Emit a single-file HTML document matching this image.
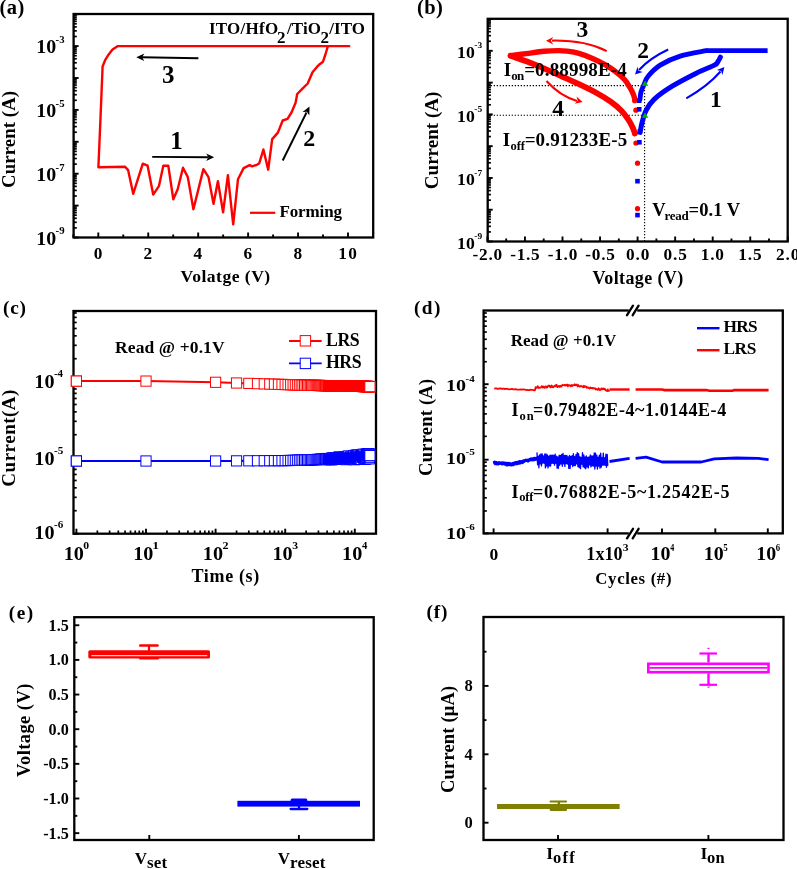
<!DOCTYPE html>
<html><head><meta charset="utf-8"><style>
html,body{margin:0;padding:0;background:#fff;}
svg{display:block;will-change:transform;}
svg text{font-family:"Liberation Serif",serif;}
</style></head><body>
<svg width="797" height="869" viewBox="0 0 797 869">
<rect x="0" y="0" width="797" height="869" fill="#fff"/>
<text x="-0.40" y="14.30" font-size="20.5" font-weight="bold" fill="#000" textLength="24.62" lengthAdjust="spacing">(a)</text>
<polyline points="349.20,46.10 117.90,46.10 112.50,49.60 107.90,55.60 105.30,59.80 102.60,66.50 100.50,118.00 98.40,167.30 125.10,166.70 128.10,170.10 133.20,193.80 142.80,163.70 147.60,165.70 153.20,194.60 158.90,186.20 163.30,165.70 168.30,165.70 173.30,199.20 177.70,189.20 183.00,167.70 187.80,177.10 193.40,209.30 203.40,169.10 208.50,177.10 213.50,203.90 217.90,181.20 223.10,212.30 227.90,175.10 233.20,224.30 238.00,179.20 243.60,168.10 249.60,165.10 252.10,166.40 256.90,164.80 259.30,163.20 263.40,149.50 268.20,169.70 272.20,139.10 277.90,132.60 282.70,120.50 287.50,118.90 291.50,112.50 295.60,102.80 297.20,94.00 302.00,89.10 307.70,83.50 312.50,72.20 316.50,67.40 319.70,64.20 323.00,61.70 325.40,54.50 327.80,46.40" fill="none" stroke="#ff0000" stroke-width="2.4" stroke-linejoin="round" stroke-linecap="round" />
<text x="208.94" y="34.20" font-size="17" font-weight="bold" fill="#000" textLength="69.19" lengthAdjust="spacing">ITO/HfO</text>
<text x="276.99" y="43.40" font-size="17" font-weight="bold" fill="#000" textLength="9.52" lengthAdjust="spacing">2</text>
<text x="286.97" y="34.20" font-size="17" font-weight="bold" fill="#000" textLength="33.94" lengthAdjust="spacing">/TiO</text>
<text x="320.44" y="43.40" font-size="17" font-weight="bold" fill="#000" textLength="8.92" lengthAdjust="spacing">2</text>
<text x="329.27" y="34.20" font-size="17" font-weight="bold" fill="#000" textLength="35.66" lengthAdjust="spacing">/ITO</text>
<line x1="198.40" y1="58.20" x2="142.00" y2="57.30" stroke="#000" stroke-width="1.9" />
<polygon points="136.30,57.20 144.36,53.52 142.10,57.29 144.24,61.12" fill="#000"/>
<text x="161.90" y="83.00" font-size="25" font-weight="bold" fill="#000" textLength="13.33" lengthAdjust="spacing">3</text>
<line x1="152.20" y1="156.90" x2="208.00" y2="157.20" stroke="#000" stroke-width="1.9" />
<polygon points="214.20,157.30 206.18,161.06 208.40,157.27 206.22,153.46" fill="#000"/>
<text x="170.33" y="148.50" font-size="25" font-weight="bold" fill="#000" textLength="12.93" lengthAdjust="spacing">1</text>
<line x1="282.70" y1="160.50" x2="306.50" y2="112.50" stroke="#000" stroke-width="1.9" />
<polygon points="309.50,106.60 309.35,115.46 306.93,111.80 302.54,112.08" fill="#000"/>
<text x="303.27" y="145.50" font-size="24" font-weight="bold" fill="#000" textLength="13.25" lengthAdjust="spacing">2</text>
<line x1="250.00" y1="212.80" x2="275.30" y2="212.80" stroke="#ff0000" stroke-width="2.2" />
<text x="279.51" y="216.80" font-size="17" font-weight="bold" fill="#000" textLength="62.45" lengthAdjust="spacing">Forming</text>
<rect x="73.60" y="14.00" width="299.60" height="223.50" fill="none" stroke="#000" stroke-width="2.3" />
<line x1="98.30" y1="237.50" x2="98.30" y2="232.50" stroke="#000" stroke-width="1.9" />
<line x1="148.24" y1="237.50" x2="148.24" y2="232.50" stroke="#000" stroke-width="1.9" />
<line x1="198.18" y1="237.50" x2="198.18" y2="232.50" stroke="#000" stroke-width="1.9" />
<line x1="248.12" y1="237.50" x2="248.12" y2="232.50" stroke="#000" stroke-width="1.9" />
<line x1="298.06" y1="237.50" x2="298.06" y2="232.50" stroke="#000" stroke-width="1.9" />
<line x1="348.00" y1="237.50" x2="348.00" y2="232.50" stroke="#000" stroke-width="1.9" />
<line x1="123.27" y1="237.50" x2="123.27" y2="234.50" stroke="#000" stroke-width="1.9" />
<line x1="173.21" y1="237.50" x2="173.21" y2="234.50" stroke="#000" stroke-width="1.9" />
<line x1="223.15" y1="237.50" x2="223.15" y2="234.50" stroke="#000" stroke-width="1.9" />
<line x1="273.09" y1="237.50" x2="273.09" y2="234.50" stroke="#000" stroke-width="1.9" />
<line x1="323.03" y1="237.50" x2="323.03" y2="234.50" stroke="#000" stroke-width="1.9" />
<line x1="73.33" y1="237.50" x2="73.33" y2="234.50" stroke="#000" stroke-width="1.9" />
<line x1="73.60" y1="237.50" x2="78.60" y2="237.50" stroke="#000" stroke-width="1.9" />
<line x1="73.60" y1="205.60" x2="78.60" y2="205.60" stroke="#000" stroke-width="1.9" />
<line x1="73.60" y1="173.70" x2="78.60" y2="173.70" stroke="#000" stroke-width="1.9" />
<line x1="73.60" y1="141.80" x2="78.60" y2="141.80" stroke="#000" stroke-width="1.9" />
<line x1="73.60" y1="109.90" x2="78.60" y2="109.90" stroke="#000" stroke-width="1.9" />
<line x1="73.60" y1="78.00" x2="78.60" y2="78.00" stroke="#000" stroke-width="1.9" />
<line x1="73.60" y1="46.10" x2="78.60" y2="46.10" stroke="#000" stroke-width="1.9" />
<line x1="73.60" y1="14.20" x2="78.60" y2="14.20" stroke="#000" stroke-width="1.9" />
<line x1="73.60" y1="227.90" x2="76.80" y2="227.90" stroke="#000" stroke-width="1.7" />
<line x1="73.60" y1="222.28" x2="76.80" y2="222.28" stroke="#000" stroke-width="1.7" />
<line x1="73.60" y1="218.29" x2="76.80" y2="218.29" stroke="#000" stroke-width="1.7" />
<line x1="73.60" y1="215.20" x2="76.80" y2="215.20" stroke="#000" stroke-width="1.7" />
<line x1="73.60" y1="212.68" x2="76.80" y2="212.68" stroke="#000" stroke-width="1.7" />
<line x1="73.60" y1="210.54" x2="76.80" y2="210.54" stroke="#000" stroke-width="1.7" />
<line x1="73.60" y1="208.69" x2="76.80" y2="208.69" stroke="#000" stroke-width="1.7" />
<line x1="73.60" y1="207.06" x2="76.80" y2="207.06" stroke="#000" stroke-width="1.7" />
<line x1="73.60" y1="196.00" x2="76.80" y2="196.00" stroke="#000" stroke-width="1.7" />
<line x1="73.60" y1="190.38" x2="76.80" y2="190.38" stroke="#000" stroke-width="1.7" />
<line x1="73.60" y1="186.39" x2="76.80" y2="186.39" stroke="#000" stroke-width="1.7" />
<line x1="73.60" y1="183.30" x2="76.80" y2="183.30" stroke="#000" stroke-width="1.7" />
<line x1="73.60" y1="180.78" x2="76.80" y2="180.78" stroke="#000" stroke-width="1.7" />
<line x1="73.60" y1="178.64" x2="76.80" y2="178.64" stroke="#000" stroke-width="1.7" />
<line x1="73.60" y1="176.79" x2="76.80" y2="176.79" stroke="#000" stroke-width="1.7" />
<line x1="73.60" y1="175.16" x2="76.80" y2="175.16" stroke="#000" stroke-width="1.7" />
<line x1="73.60" y1="164.10" x2="76.80" y2="164.10" stroke="#000" stroke-width="1.7" />
<line x1="73.60" y1="158.48" x2="76.80" y2="158.48" stroke="#000" stroke-width="1.7" />
<line x1="73.60" y1="154.49" x2="76.80" y2="154.49" stroke="#000" stroke-width="1.7" />
<line x1="73.60" y1="151.40" x2="76.80" y2="151.40" stroke="#000" stroke-width="1.7" />
<line x1="73.60" y1="148.88" x2="76.80" y2="148.88" stroke="#000" stroke-width="1.7" />
<line x1="73.60" y1="146.74" x2="76.80" y2="146.74" stroke="#000" stroke-width="1.7" />
<line x1="73.60" y1="144.89" x2="76.80" y2="144.89" stroke="#000" stroke-width="1.7" />
<line x1="73.60" y1="143.26" x2="76.80" y2="143.26" stroke="#000" stroke-width="1.7" />
<line x1="73.60" y1="132.20" x2="76.80" y2="132.20" stroke="#000" stroke-width="1.7" />
<line x1="73.60" y1="126.58" x2="76.80" y2="126.58" stroke="#000" stroke-width="1.7" />
<line x1="73.60" y1="122.59" x2="76.80" y2="122.59" stroke="#000" stroke-width="1.7" />
<line x1="73.60" y1="119.50" x2="76.80" y2="119.50" stroke="#000" stroke-width="1.7" />
<line x1="73.60" y1="116.98" x2="76.80" y2="116.98" stroke="#000" stroke-width="1.7" />
<line x1="73.60" y1="114.84" x2="76.80" y2="114.84" stroke="#000" stroke-width="1.7" />
<line x1="73.60" y1="112.99" x2="76.80" y2="112.99" stroke="#000" stroke-width="1.7" />
<line x1="73.60" y1="111.36" x2="76.80" y2="111.36" stroke="#000" stroke-width="1.7" />
<line x1="73.60" y1="100.30" x2="76.80" y2="100.30" stroke="#000" stroke-width="1.7" />
<line x1="73.60" y1="94.68" x2="76.80" y2="94.68" stroke="#000" stroke-width="1.7" />
<line x1="73.60" y1="90.69" x2="76.80" y2="90.69" stroke="#000" stroke-width="1.7" />
<line x1="73.60" y1="87.60" x2="76.80" y2="87.60" stroke="#000" stroke-width="1.7" />
<line x1="73.60" y1="85.08" x2="76.80" y2="85.08" stroke="#000" stroke-width="1.7" />
<line x1="73.60" y1="82.94" x2="76.80" y2="82.94" stroke="#000" stroke-width="1.7" />
<line x1="73.60" y1="81.09" x2="76.80" y2="81.09" stroke="#000" stroke-width="1.7" />
<line x1="73.60" y1="79.46" x2="76.80" y2="79.46" stroke="#000" stroke-width="1.7" />
<line x1="73.60" y1="68.40" x2="76.80" y2="68.40" stroke="#000" stroke-width="1.7" />
<line x1="73.60" y1="62.78" x2="76.80" y2="62.78" stroke="#000" stroke-width="1.7" />
<line x1="73.60" y1="58.79" x2="76.80" y2="58.79" stroke="#000" stroke-width="1.7" />
<line x1="73.60" y1="55.70" x2="76.80" y2="55.70" stroke="#000" stroke-width="1.7" />
<line x1="73.60" y1="53.18" x2="76.80" y2="53.18" stroke="#000" stroke-width="1.7" />
<line x1="73.60" y1="51.04" x2="76.80" y2="51.04" stroke="#000" stroke-width="1.7" />
<line x1="73.60" y1="49.19" x2="76.80" y2="49.19" stroke="#000" stroke-width="1.7" />
<line x1="73.60" y1="47.56" x2="76.80" y2="47.56" stroke="#000" stroke-width="1.7" />
<line x1="73.60" y1="36.50" x2="76.80" y2="36.50" stroke="#000" stroke-width="1.7" />
<line x1="73.60" y1="30.88" x2="76.80" y2="30.88" stroke="#000" stroke-width="1.7" />
<line x1="73.60" y1="26.89" x2="76.80" y2="26.89" stroke="#000" stroke-width="1.7" />
<line x1="73.60" y1="23.80" x2="76.80" y2="23.80" stroke="#000" stroke-width="1.7" />
<line x1="73.60" y1="21.28" x2="76.80" y2="21.28" stroke="#000" stroke-width="1.7" />
<line x1="73.60" y1="19.14" x2="76.80" y2="19.14" stroke="#000" stroke-width="1.7" />
<line x1="73.60" y1="17.29" x2="76.80" y2="17.29" stroke="#000" stroke-width="1.7" />
<line x1="73.60" y1="15.66" x2="76.80" y2="15.66" stroke="#000" stroke-width="1.7" />
<text x="93.63" y="258.60" font-size="17.3" font-weight="bold" fill="#000" textLength="9.34" lengthAdjust="spacing">0</text>
<text x="143.57" y="258.60" font-size="17.3" font-weight="bold" fill="#000" textLength="9.34" lengthAdjust="spacing">2</text>
<text x="193.56" y="258.60" font-size="17.3" font-weight="bold" fill="#000" textLength="9.34" lengthAdjust="spacing">4</text>
<text x="243.40" y="258.60" font-size="17.3" font-weight="bold" fill="#000" textLength="9.34" lengthAdjust="spacing">6</text>
<text x="293.39" y="258.60" font-size="17.3" font-weight="bold" fill="#000" textLength="9.34" lengthAdjust="spacing">8</text>
<text x="338.26" y="258.60" font-size="17.3" font-weight="bold" fill="#000" textLength="18.68" lengthAdjust="spacing">10</text>
<text x="36.20" y="53.30" font-size="18.5" font-weight="bold" fill="#000" textLength="19.94" lengthAdjust="spacingAndGlyphs">10</text>
<text x="55.60" y="42.94" font-size="9.3" font-weight="bold" fill="#000" textLength="8.99" lengthAdjust="spacingAndGlyphs">-3</text>
<text x="36.20" y="117.10" font-size="18.5" font-weight="bold" fill="#000" textLength="19.94" lengthAdjust="spacingAndGlyphs">10</text>
<text x="55.59" y="106.74" font-size="9.3" font-weight="bold" fill="#000" textLength="9.02" lengthAdjust="spacingAndGlyphs">-5</text>
<text x="36.20" y="180.90" font-size="18.5" font-weight="bold" fill="#000" textLength="19.94" lengthAdjust="spacingAndGlyphs">10</text>
<text x="55.60" y="170.54" font-size="9.3" font-weight="bold" fill="#000" textLength="8.87" lengthAdjust="spacingAndGlyphs">-7</text>
<text x="36.20" y="244.70" font-size="18.5" font-weight="bold" fill="#000" textLength="19.94" lengthAdjust="spacingAndGlyphs">10</text>
<text x="55.60" y="234.34" font-size="9.3" font-weight="bold" fill="#000" textLength="8.99" lengthAdjust="spacingAndGlyphs">-9</text>
<text x="0" y="0" font-size="18.8" font-weight="bold" fill="#000" textLength="96.99" lengthAdjust="spacing" transform="translate(14.50,187.90) rotate(-90)">Current (A)</text>
<text x="180.61" y="281.60" font-size="17.6" font-weight="bold" fill="#000" textLength="89.59" lengthAdjust="spacing">Volatge (V)</text>
<text x="416.90" y="14.10" font-size="20.5" font-weight="bold" fill="#000" textLength="25.89" lengthAdjust="spacing">(b)</text>
<line x1="487.70" y1="85.60" x2="644.60" y2="85.60" stroke="#000" stroke-width="1.1" stroke-dasharray="1.3,1.7"/>
<line x1="487.70" y1="115.20" x2="644.60" y2="115.20" stroke="#000" stroke-width="1.1" stroke-dasharray="1.3,1.7"/>
<line x1="644.60" y1="84.00" x2="644.60" y2="241.50" stroke="#000" stroke-width="1.1" stroke-dasharray="1.3,1.7"/>
<path d="M510.50,55.70 C513.13,55.35 520.73,54.33 526.30,53.60 C531.87,52.87 538.62,51.80 543.90,51.30 C549.18,50.80 554.20,50.63 558.00,50.60 C561.80,50.57 563.20,50.63 566.70,51.10 C570.20,51.57 574.60,52.13 579.00,53.40 C583.40,54.67 588.70,56.78 593.10,58.70 C597.50,60.62 601.60,62.70 605.40,64.90 C609.20,67.10 612.68,69.42 615.90,71.90 C619.12,74.38 622.35,77.17 624.70,79.80 C627.05,82.43 628.53,85.22 630.00,87.70 C631.47,90.18 632.68,92.65 633.50,94.70 C634.32,96.75 634.67,99.12 634.90,100.00" fill="none" stroke="#ff0000" stroke-width="5.4" stroke-linejoin="round" stroke-linecap="round" />
<path d="M510.50,55.70 C513.13,56.63 520.73,59.18 526.30,61.30 C531.87,63.42 538.03,65.90 543.90,68.40 C549.77,70.90 555.65,73.67 561.50,76.30 C567.35,78.93 573.15,81.42 579.00,84.20 C584.85,86.98 591.32,90.08 596.60,93.00 C601.88,95.92 606.60,98.78 610.70,101.70 C614.80,104.62 618.28,107.57 621.20,110.50 C624.12,113.43 626.30,116.52 628.20,119.30 C630.10,122.08 631.48,124.85 632.60,127.20 C633.72,129.55 634.52,132.37 634.90,133.40" fill="none" stroke="#ff0000" stroke-width="5.8" stroke-linejoin="round" stroke-linecap="round" />
<polyline points="767.60,50.70 706.30,50.70" fill="none" stroke="#0000ff" stroke-width="4.8" stroke-linejoin="round" stroke-linecap="butt" />
<path d="M706.30,50.70 C701.95,51.60 687.88,53.70 680.20,56.10 C672.52,58.50 665.55,61.75 660.20,65.10 C654.85,68.45 650.78,73.02 648.10,76.20 C645.42,79.38 645.28,81.57 644.10,84.20 C642.92,86.83 641.68,89.48 641.00,92.00 C640.32,94.52 640.17,98.08 640.00,99.30" fill="none" stroke="#0000ff" stroke-width="4.8" stroke-linejoin="round" stroke-linecap="round" />
<path d="M720.40,57.10 C720.00,57.83 719.00,60.17 718.00,61.50 C717.00,62.83 718.02,63.15 714.40,65.10 C710.78,67.05 703.33,69.68 696.30,73.20 C689.27,76.72 679.23,81.85 672.20,86.20 C665.17,90.55 658.45,95.28 654.10,99.30 C649.75,103.32 648.10,106.45 646.10,110.30 C644.10,114.15 643.10,118.72 642.10,122.40 C641.10,126.08 640.43,130.73 640.10,132.40" fill="none" stroke="#0000ff" stroke-width="5.0" stroke-linejoin="round" stroke-linecap="round" />
<circle cx="634.7" cy="100.7" r="2.6" fill="#ff0000"/>
<circle cx="635.9" cy="110.2" r="2.6" fill="#ff0000"/>
<circle cx="634.7" cy="133.6" r="2.6" fill="#ff0000"/>
<circle cx="635.9" cy="143" r="2.6" fill="#ff0000"/>
<circle cx="637.5" cy="163.2" r="2.6" fill="#ff0000"/>
<circle cx="637.5" cy="208.7" r="2.6" fill="#ff0000"/>
<rect x="636.90" y="98.40" width="4.60" height="4.60" fill="#0000ff" stroke="none" stroke-width="1" />
<rect x="636.90" y="107.00" width="4.60" height="4.60" fill="#0000ff" stroke="none" stroke-width="1" />
<rect x="637.50" y="129.50" width="4.60" height="4.60" fill="#0000ff" stroke="none" stroke-width="1" />
<rect x="637.10" y="140.00" width="4.60" height="4.60" fill="#0000ff" stroke="none" stroke-width="1" />
<rect x="635.20" y="178.90" width="4.60" height="4.60" fill="#0000ff" stroke="none" stroke-width="1" />
<rect x="635.20" y="212.80" width="4.60" height="4.60" fill="#0000ff" stroke="none" stroke-width="1" />
<polygon points="645.1,80.39999999999999 648.3000000000001,85.8 641.9,85.8" fill="#00b000"/>
<polygon points="645.1,112.39999999999999 648.3000000000001,117.8 641.9,117.8" fill="#00b000"/>
<path d="M606.7,51.1 Q585,40 552,40.6" fill="none" stroke="#ff0000" stroke-width="2.1" />
<polygon points="546.00,40.80 553.20,37.10 551.00,40.80 553.20,44.50" fill="#ff0000"/>
<path d="M546.5,81 Q560,96 577,101" fill="none" stroke="#ff0000" stroke-width="2.1" />
<polygon points="582.60,101.90 574.72,103.74 577.75,100.69 576.51,96.56" fill="#ff0000"/>
<path d="M668.2,49.5 Q650,58 639,70" fill="none" stroke="#0000ff" stroke-width="2.1" />
<polygon points="635.00,74.40 637.47,66.69 638.54,70.86 642.71,71.93" fill="#0000ff"/>
<path d="M686.3,98.3 Q708,86 720.5,71.5" fill="none" stroke="#0000ff" stroke-width="2.1" />
<polygon points="724.40,67.10 722.48,74.96 721.13,70.88 716.89,70.12" fill="#0000ff"/>
<text x="576.41" y="36.60" font-size="23.5" font-weight="bold" fill="#000" textLength="13.22" lengthAdjust="spacing">3</text>
<text x="552.18" y="115.50" font-size="23.5" font-weight="bold" fill="#000" textLength="12.87" lengthAdjust="spacing">4</text>
<text x="637.14" y="57.70" font-size="23.5" font-weight="bold" fill="#000" textLength="13.61" lengthAdjust="spacing">2</text>
<text x="709.88" y="107.10" font-size="23.5" font-weight="bold" fill="#000" textLength="12.65" lengthAdjust="spacing">1</text>
<text x="503.64" y="75.80" font-size="19" font-weight="bold" fill="#000" textLength="7.84" lengthAdjust="spacing">I</text>
<text x="511.34" y="79.80" font-size="13" font-weight="bold" fill="#000" textLength="12.82" lengthAdjust="spacing">on</text>
<text x="524.13" y="75.80" font-size="19" font-weight="bold" fill="#000" textLength="102.70" lengthAdjust="spacing">=0.88998E-4</text>
<text x="502.84" y="145.50" font-size="19" font-weight="bold" fill="#000" textLength="7.84" lengthAdjust="spacing">I</text>
<text x="510.54" y="149.50" font-size="12.5" font-weight="bold" fill="#000" textLength="14.35" lengthAdjust="spacing">off</text>
<text x="524.64" y="145.50" font-size="19" font-weight="bold" fill="#000" textLength="102.58" lengthAdjust="spacing">=0.91233E-5</text>
<text x="652.14" y="216.30" font-size="18.5" font-weight="bold" fill="#000" textLength="11.86" lengthAdjust="spacing">V</text>
<text x="664.45" y="219.80" font-size="13" font-weight="bold" fill="#000" textLength="24.28" lengthAdjust="spacing">read</text>
<text x="688.57" y="216.30" font-size="18.5" font-weight="bold" fill="#000" textLength="51.64" lengthAdjust="spacing">=0.1 V</text>
<rect x="487.70" y="18.80" width="300.00" height="222.70" fill="none" stroke="#000" stroke-width="2.3" />
<line x1="487.40" y1="241.50" x2="487.40" y2="236.50" stroke="#000" stroke-width="1.9" />
<line x1="524.95" y1="241.50" x2="524.95" y2="236.50" stroke="#000" stroke-width="1.9" />
<line x1="562.50" y1="241.50" x2="562.50" y2="236.50" stroke="#000" stroke-width="1.9" />
<line x1="600.05" y1="241.50" x2="600.05" y2="236.50" stroke="#000" stroke-width="1.9" />
<line x1="637.60" y1="241.50" x2="637.60" y2="236.50" stroke="#000" stroke-width="1.9" />
<line x1="675.15" y1="241.50" x2="675.15" y2="236.50" stroke="#000" stroke-width="1.9" />
<line x1="712.70" y1="241.50" x2="712.70" y2="236.50" stroke="#000" stroke-width="1.9" />
<line x1="750.25" y1="241.50" x2="750.25" y2="236.50" stroke="#000" stroke-width="1.9" />
<line x1="787.80" y1="241.50" x2="787.80" y2="236.50" stroke="#000" stroke-width="1.9" />
<line x1="506.18" y1="241.50" x2="506.18" y2="238.50" stroke="#000" stroke-width="1.9" />
<line x1="543.73" y1="241.50" x2="543.73" y2="238.50" stroke="#000" stroke-width="1.9" />
<line x1="581.27" y1="241.50" x2="581.27" y2="238.50" stroke="#000" stroke-width="1.9" />
<line x1="618.83" y1="241.50" x2="618.83" y2="238.50" stroke="#000" stroke-width="1.9" />
<line x1="656.38" y1="241.50" x2="656.38" y2="238.50" stroke="#000" stroke-width="1.9" />
<line x1="693.93" y1="241.50" x2="693.93" y2="238.50" stroke="#000" stroke-width="1.9" />
<line x1="731.48" y1="241.50" x2="731.48" y2="238.50" stroke="#000" stroke-width="1.9" />
<line x1="769.02" y1="241.50" x2="769.02" y2="238.50" stroke="#000" stroke-width="1.9" />
<line x1="487.70" y1="241.50" x2="492.70" y2="241.50" stroke="#000" stroke-width="1.9" />
<line x1="487.70" y1="209.72" x2="492.70" y2="209.72" stroke="#000" stroke-width="1.9" />
<line x1="487.70" y1="177.94" x2="492.70" y2="177.94" stroke="#000" stroke-width="1.9" />
<line x1="487.70" y1="146.16" x2="492.70" y2="146.16" stroke="#000" stroke-width="1.9" />
<line x1="487.70" y1="114.38" x2="492.70" y2="114.38" stroke="#000" stroke-width="1.9" />
<line x1="487.70" y1="82.60" x2="492.70" y2="82.60" stroke="#000" stroke-width="1.9" />
<line x1="487.70" y1="50.82" x2="492.70" y2="50.82" stroke="#000" stroke-width="1.9" />
<line x1="487.70" y1="19.04" x2="492.70" y2="19.04" stroke="#000" stroke-width="1.9" />
<line x1="487.70" y1="231.93" x2="490.90" y2="231.93" stroke="#000" stroke-width="1.7" />
<line x1="487.70" y1="226.34" x2="490.90" y2="226.34" stroke="#000" stroke-width="1.7" />
<line x1="487.70" y1="222.37" x2="490.90" y2="222.37" stroke="#000" stroke-width="1.7" />
<line x1="487.70" y1="219.29" x2="490.90" y2="219.29" stroke="#000" stroke-width="1.7" />
<line x1="487.70" y1="216.77" x2="490.90" y2="216.77" stroke="#000" stroke-width="1.7" />
<line x1="487.70" y1="214.64" x2="490.90" y2="214.64" stroke="#000" stroke-width="1.7" />
<line x1="487.70" y1="212.80" x2="490.90" y2="212.80" stroke="#000" stroke-width="1.7" />
<line x1="487.70" y1="211.17" x2="490.90" y2="211.17" stroke="#000" stroke-width="1.7" />
<line x1="487.70" y1="200.15" x2="490.90" y2="200.15" stroke="#000" stroke-width="1.7" />
<line x1="487.70" y1="194.56" x2="490.90" y2="194.56" stroke="#000" stroke-width="1.7" />
<line x1="487.70" y1="190.59" x2="490.90" y2="190.59" stroke="#000" stroke-width="1.7" />
<line x1="487.70" y1="187.51" x2="490.90" y2="187.51" stroke="#000" stroke-width="1.7" />
<line x1="487.70" y1="184.99" x2="490.90" y2="184.99" stroke="#000" stroke-width="1.7" />
<line x1="487.70" y1="182.86" x2="490.90" y2="182.86" stroke="#000" stroke-width="1.7" />
<line x1="487.70" y1="181.02" x2="490.90" y2="181.02" stroke="#000" stroke-width="1.7" />
<line x1="487.70" y1="179.39" x2="490.90" y2="179.39" stroke="#000" stroke-width="1.7" />
<line x1="487.70" y1="168.37" x2="490.90" y2="168.37" stroke="#000" stroke-width="1.7" />
<line x1="487.70" y1="162.78" x2="490.90" y2="162.78" stroke="#000" stroke-width="1.7" />
<line x1="487.70" y1="158.81" x2="490.90" y2="158.81" stroke="#000" stroke-width="1.7" />
<line x1="487.70" y1="155.73" x2="490.90" y2="155.73" stroke="#000" stroke-width="1.7" />
<line x1="487.70" y1="153.21" x2="490.90" y2="153.21" stroke="#000" stroke-width="1.7" />
<line x1="487.70" y1="151.08" x2="490.90" y2="151.08" stroke="#000" stroke-width="1.7" />
<line x1="487.70" y1="149.24" x2="490.90" y2="149.24" stroke="#000" stroke-width="1.7" />
<line x1="487.70" y1="147.61" x2="490.90" y2="147.61" stroke="#000" stroke-width="1.7" />
<line x1="487.70" y1="136.59" x2="490.90" y2="136.59" stroke="#000" stroke-width="1.7" />
<line x1="487.70" y1="131.00" x2="490.90" y2="131.00" stroke="#000" stroke-width="1.7" />
<line x1="487.70" y1="127.03" x2="490.90" y2="127.03" stroke="#000" stroke-width="1.7" />
<line x1="487.70" y1="123.95" x2="490.90" y2="123.95" stroke="#000" stroke-width="1.7" />
<line x1="487.70" y1="121.43" x2="490.90" y2="121.43" stroke="#000" stroke-width="1.7" />
<line x1="487.70" y1="119.30" x2="490.90" y2="119.30" stroke="#000" stroke-width="1.7" />
<line x1="487.70" y1="117.46" x2="490.90" y2="117.46" stroke="#000" stroke-width="1.7" />
<line x1="487.70" y1="115.83" x2="490.90" y2="115.83" stroke="#000" stroke-width="1.7" />
<line x1="487.70" y1="104.81" x2="490.90" y2="104.81" stroke="#000" stroke-width="1.7" />
<line x1="487.70" y1="99.22" x2="490.90" y2="99.22" stroke="#000" stroke-width="1.7" />
<line x1="487.70" y1="95.25" x2="490.90" y2="95.25" stroke="#000" stroke-width="1.7" />
<line x1="487.70" y1="92.17" x2="490.90" y2="92.17" stroke="#000" stroke-width="1.7" />
<line x1="487.70" y1="89.65" x2="490.90" y2="89.65" stroke="#000" stroke-width="1.7" />
<line x1="487.70" y1="87.52" x2="490.90" y2="87.52" stroke="#000" stroke-width="1.7" />
<line x1="487.70" y1="85.68" x2="490.90" y2="85.68" stroke="#000" stroke-width="1.7" />
<line x1="487.70" y1="84.05" x2="490.90" y2="84.05" stroke="#000" stroke-width="1.7" />
<line x1="487.70" y1="73.03" x2="490.90" y2="73.03" stroke="#000" stroke-width="1.7" />
<line x1="487.70" y1="67.44" x2="490.90" y2="67.44" stroke="#000" stroke-width="1.7" />
<line x1="487.70" y1="63.47" x2="490.90" y2="63.47" stroke="#000" stroke-width="1.7" />
<line x1="487.70" y1="60.39" x2="490.90" y2="60.39" stroke="#000" stroke-width="1.7" />
<line x1="487.70" y1="57.87" x2="490.90" y2="57.87" stroke="#000" stroke-width="1.7" />
<line x1="487.70" y1="55.74" x2="490.90" y2="55.74" stroke="#000" stroke-width="1.7" />
<line x1="487.70" y1="53.90" x2="490.90" y2="53.90" stroke="#000" stroke-width="1.7" />
<line x1="487.70" y1="52.27" x2="490.90" y2="52.27" stroke="#000" stroke-width="1.7" />
<line x1="487.70" y1="41.25" x2="490.90" y2="41.25" stroke="#000" stroke-width="1.7" />
<line x1="487.70" y1="35.66" x2="490.90" y2="35.66" stroke="#000" stroke-width="1.7" />
<line x1="487.70" y1="31.69" x2="490.90" y2="31.69" stroke="#000" stroke-width="1.7" />
<line x1="487.70" y1="28.61" x2="490.90" y2="28.61" stroke="#000" stroke-width="1.7" />
<line x1="487.70" y1="26.09" x2="490.90" y2="26.09" stroke="#000" stroke-width="1.7" />
<line x1="487.70" y1="23.96" x2="490.90" y2="23.96" stroke="#000" stroke-width="1.7" />
<line x1="487.70" y1="22.12" x2="490.90" y2="22.12" stroke="#000" stroke-width="1.7" />
<line x1="487.70" y1="20.49" x2="490.90" y2="20.49" stroke="#000" stroke-width="1.7" />
<text x="472.62" y="260.00" font-size="17.3" font-weight="bold" fill="#000" textLength="29.58" lengthAdjust="spacing">-2.0</text>
<text x="510.17" y="260.00" font-size="17.3" font-weight="bold" fill="#000" textLength="29.58" lengthAdjust="spacing">-1.5</text>
<text x="547.72" y="260.00" font-size="17.3" font-weight="bold" fill="#000" textLength="29.58" lengthAdjust="spacing">-1.0</text>
<text x="585.27" y="260.00" font-size="17.3" font-weight="bold" fill="#000" textLength="29.58" lengthAdjust="spacing">-0.5</text>
<text x="625.92" y="260.00" font-size="17.3" font-weight="bold" fill="#000" textLength="23.36" lengthAdjust="spacing">0.0</text>
<text x="663.47" y="260.00" font-size="17.3" font-weight="bold" fill="#000" textLength="23.36" lengthAdjust="spacing">0.5</text>
<text x="700.63" y="260.00" font-size="17.3" font-weight="bold" fill="#000" textLength="23.36" lengthAdjust="spacing">1.0</text>
<text x="738.18" y="260.00" font-size="17.3" font-weight="bold" fill="#000" textLength="23.36" lengthAdjust="spacing">1.5</text>
<text x="776.08" y="260.00" font-size="17.3" font-weight="bold" fill="#000" textLength="23.36" lengthAdjust="spacing">2.0</text>
<text x="457.09" y="58.01" font-size="17" font-weight="bold" fill="#000" textLength="17.68" lengthAdjust="spacingAndGlyphs">10</text>
<text x="474.34" y="48.49" font-size="9" font-weight="bold" fill="#000" textLength="7.89" lengthAdjust="spacingAndGlyphs">-3</text>
<text x="457.09" y="121.57" font-size="17" font-weight="bold" fill="#000" textLength="17.68" lengthAdjust="spacingAndGlyphs">10</text>
<text x="474.34" y="112.05" font-size="9" font-weight="bold" fill="#000" textLength="7.92" lengthAdjust="spacingAndGlyphs">-5</text>
<text x="457.09" y="185.13" font-size="17" font-weight="bold" fill="#000" textLength="17.68" lengthAdjust="spacingAndGlyphs">10</text>
<text x="474.35" y="175.61" font-size="9" font-weight="bold" fill="#000" textLength="7.79" lengthAdjust="spacingAndGlyphs">-7</text>
<text x="457.09" y="248.69" font-size="17" font-weight="bold" fill="#000" textLength="17.68" lengthAdjust="spacingAndGlyphs">10</text>
<text x="474.34" y="239.17" font-size="9" font-weight="bold" fill="#000" textLength="7.89" lengthAdjust="spacingAndGlyphs">-9</text>
<text x="0" y="0" font-size="19" font-weight="bold" fill="#000" textLength="97.60" lengthAdjust="spacing" transform="translate(438.40,189.21) rotate(-90)">Current (A)</text>
<text x="592.61" y="283.80" font-size="18" font-weight="bold" fill="#000" textLength="90.60" lengthAdjust="spacing">Voltage (V)</text>
<text x="2.92" y="314.00" font-size="19.3" font-weight="bold" fill="#000" textLength="23.06" lengthAdjust="spacing">(c)</text>
<rect x="73.50" y="311.00" width="302.50" height="222.70" fill="none" stroke="#000" stroke-width="2.3" />
<polyline points="76.40,381.10 146.00,381.10 215.60,382.30 236.55,383.00 248.81,383.39 257.50,383.66 264.25,383.88 269.76,384.05 274.42,384.20 278.46,384.33 282.02,384.44 285.20,384.54 288.08,384.63 290.71,384.71 293.13,384.79 295.37,384.86 297.46,384.93 299.41,384.99 301.24,385.05 302.97,385.10 304.60,385.15 306.15,385.20 307.63,385.23 309.03,385.26 310.38,385.29 311.66,385.32 312.90,385.35 314.08,385.37 315.22,385.40 316.32,385.42 317.38,385.45 318.41,385.47 319.40,385.49 320.36,385.51 321.29,385.53 322.19,385.55 323.07,385.57 323.92,385.59 324.75,385.61 325.55,385.63 326.34,385.64 327.10,385.66 327.85,385.68 328.58,385.69 329.29,385.71 329.98,385.72 330.66,385.74 331.33,385.75 331.98,385.77 332.61,385.78 333.24,385.79 333.85,385.81 334.45,385.82 335.03,385.83 335.61,385.85 336.17,385.86 336.73,385.87 337.27,385.88 337.81,385.89 338.33,385.91 338.85,385.92 339.36,385.93 339.86,385.94 340.35,385.95 340.83,385.96 341.31,385.97 341.78,385.98 342.24,385.99 342.69,386.00 343.14,386.01 343.58,386.02 344.02,386.03 344.45,386.04 344.87,386.05 345.29,386.06 345.70,386.07 346.10,386.08 346.50,386.08 346.90,386.09 347.29,386.10 347.67,386.11 348.06,386.12 348.43,386.13 348.80,386.13 349.17,386.14 349.53,386.15 349.89,386.16 350.24,386.17 350.59,386.17 350.94,386.18 351.28,386.19 351.62,386.20 351.95,386.20 352.28,386.21 352.61,386.22 352.93,386.22 353.25,386.23 353.57,386.24 353.88,386.25 354.19,386.25 354.50,386.26 354.80,386.27 355.10,386.27 355.40,386.28 355.69,386.28 355.99,386.29 356.27,386.30 356.56,386.30 356.85,386.31 357.13,386.32 357.40,386.32 357.68,386.33 357.95,386.33 358.23,386.34 358.49,386.35 358.76,386.35 359.02,386.36 359.29,386.36 359.55,386.37 359.80,386.37 360.06,386.38 360.31,386.39 360.56,386.39 360.81,386.40 361.06,386.40 361.30,386.41 361.54,386.41 361.79,386.42 362.02,386.42 362.26,386.43 362.50,386.43 362.73,386.44 362.96,386.44 363.19,386.45 363.42,386.45 363.65,386.46 363.87,386.46 364.09,386.47 364.32,386.47 364.54,386.48 364.75,386.48 364.97,386.49 365.19,386.49 365.40,386.50 365.61,386.50 365.82,386.51 366.03,386.51 366.24,386.52 366.45,386.52 366.65,386.52 366.85,386.53 367.06,386.53 367.26,386.54 367.46,386.54 367.65,386.55 367.85,386.55 368.05,386.55 368.24,386.56 368.43,386.56 368.63,386.57 368.82,386.57 369.01,386.58 369.20,386.58 369.38,386.58 369.57,386.59 369.75,386.59 369.94,386.60" fill="none" stroke="#ff0000" stroke-width="2.0" stroke-linejoin="round" stroke-linecap="round" />
<polyline points="76.40,461.00 146.00,461.00 215.60,461.00 236.55,460.88 248.81,460.81 257.50,460.76 264.25,460.72 269.76,460.69 274.42,460.66 278.46,460.64 282.02,460.62 285.20,460.60 288.08,460.51 290.71,460.43 293.13,460.35 295.37,460.28 297.46,460.21 299.41,460.15 301.24,460.09 302.97,460.04 304.60,459.99 306.15,459.94 307.63,459.89 309.03,459.85 310.38,459.80 311.66,459.76 312.90,459.72 314.08,459.67 315.22,459.57 316.32,459.67 317.38,459.38 318.41,459.57 319.40,459.43 320.36,459.13 321.29,459.43 322.19,458.91 323.07,459.24 323.92,458.76 324.75,458.70 325.55,459.07 326.34,459.59 327.10,458.50 327.85,458.59 328.58,459.20 329.29,459.73 329.98,459.04 330.66,458.67 331.33,459.76 331.98,457.86 332.61,459.50 333.24,458.25 333.85,457.87 334.45,457.75 335.03,458.15 335.61,459.33 336.17,457.74 336.73,458.71 337.27,458.83 337.81,458.09 338.33,458.53 338.85,457.16 339.36,457.09 339.86,457.46 340.35,458.81 340.83,458.04 341.31,457.66 341.78,458.46 342.24,458.02 342.69,457.50 343.14,459.07 343.58,458.74 344.02,457.21 344.45,458.29 344.87,458.10 345.29,459.29 345.70,458.77 346.10,457.18 346.50,459.64 346.90,456.50 347.29,457.56 347.67,458.80 348.06,456.51 348.43,457.76 348.80,456.00 349.17,458.41 349.53,458.77 349.89,458.00 350.24,459.19 350.59,456.92 350.94,458.45 351.28,458.02 351.62,457.94 351.95,457.40 352.28,459.01 352.61,459.44 352.93,457.42 353.25,458.22 353.57,455.57 353.88,458.36 354.19,458.11 354.50,459.64 354.80,458.87 355.10,456.42 355.40,456.86 355.69,458.14 355.99,455.14 356.27,457.15 356.56,455.75 356.85,455.49 357.13,455.18 357.40,458.54 357.68,455.46 357.95,456.01 358.23,456.68 358.49,459.01 358.76,455.11 359.02,456.91 359.29,457.39 359.55,459.05 359.80,458.73 360.06,458.95 360.31,455.96 360.56,456.64 360.81,456.33 361.06,459.03 361.30,459.41 361.54,455.19 361.79,455.30 362.02,455.57 362.26,455.56 362.50,456.88 362.73,457.42 362.96,455.65 363.19,454.23 363.42,456.46 363.65,456.17 363.87,457.24 364.09,459.35 364.32,457.90 364.54,456.92 364.75,457.48 364.97,457.79 365.19,454.29 365.40,459.04 365.61,458.36 365.82,458.89 366.03,458.45 366.24,456.11 366.45,456.14 366.65,454.42 366.85,457.47 367.06,454.13 367.26,454.14 367.46,454.95 367.65,454.66 367.85,455.69 368.05,453.97 368.24,453.64 368.43,454.52 368.63,454.20 368.82,455.76 369.01,453.70 369.20,458.82 369.38,457.24 369.57,454.39 369.75,455.01 369.94,455.57" fill="none" stroke="#0000ff" stroke-width="2.0" stroke-linejoin="round" stroke-linecap="round" />
<rect x="71.30" y="376.00" width="10.20" height="10.20" fill="#fff" stroke="#ff0000" stroke-width="1.0" />
<rect x="140.90" y="376.00" width="10.20" height="10.20" fill="#fff" stroke="#ff0000" stroke-width="1.0" />
<rect x="210.50" y="377.20" width="10.20" height="10.20" fill="#fff" stroke="#ff0000" stroke-width="1.0" />
<rect x="231.45" y="377.90" width="10.20" height="10.20" fill="#fff" stroke="#ff0000" stroke-width="1.0" />
<rect x="243.71" y="378.29" width="10.20" height="10.20" fill="#fff" stroke="#ff0000" stroke-width="1.0" />
<rect x="252.40" y="378.56" width="10.20" height="10.20" fill="#fff" stroke="#ff0000" stroke-width="1.0" />
<rect x="259.15" y="378.78" width="10.20" height="10.20" fill="#fff" stroke="#ff0000" stroke-width="1.0" />
<rect x="264.66" y="378.95" width="10.20" height="10.20" fill="#fff" stroke="#ff0000" stroke-width="1.0" />
<rect x="269.32" y="379.10" width="10.20" height="10.20" fill="#fff" stroke="#ff0000" stroke-width="1.0" />
<rect x="273.36" y="379.23" width="10.20" height="10.20" fill="#fff" stroke="#ff0000" stroke-width="1.0" />
<rect x="276.92" y="379.34" width="10.20" height="10.20" fill="#fff" stroke="#ff0000" stroke-width="1.0" />
<rect x="280.10" y="379.44" width="10.20" height="10.20" fill="#fff" stroke="#ff0000" stroke-width="1.0" />
<rect x="282.98" y="379.53" width="10.20" height="10.20" fill="#fff" stroke="#ff0000" stroke-width="1.0" />
<rect x="285.61" y="379.61" width="10.20" height="10.20" fill="#fff" stroke="#ff0000" stroke-width="1.0" />
<rect x="288.03" y="379.69" width="10.20" height="10.20" fill="#fff" stroke="#ff0000" stroke-width="1.0" />
<rect x="290.27" y="379.76" width="10.20" height="10.20" fill="#fff" stroke="#ff0000" stroke-width="1.0" />
<rect x="292.36" y="379.83" width="10.20" height="10.20" fill="#fff" stroke="#ff0000" stroke-width="1.0" />
<rect x="294.31" y="379.89" width="10.20" height="10.20" fill="#fff" stroke="#ff0000" stroke-width="1.0" />
<rect x="296.14" y="379.95" width="10.20" height="10.20" fill="#fff" stroke="#ff0000" stroke-width="1.0" />
<rect x="297.87" y="380.00" width="10.20" height="10.20" fill="#fff" stroke="#ff0000" stroke-width="1.0" />
<rect x="299.50" y="380.05" width="10.20" height="10.20" fill="#fff" stroke="#ff0000" stroke-width="1.0" />
<rect x="301.05" y="380.10" width="10.20" height="10.20" fill="#fff" stroke="#ff0000" stroke-width="1.0" />
<rect x="302.53" y="380.13" width="10.20" height="10.20" fill="#fff" stroke="#ff0000" stroke-width="1.0" />
<rect x="303.93" y="380.16" width="10.20" height="10.20" fill="#fff" stroke="#ff0000" stroke-width="1.0" />
<rect x="305.28" y="380.19" width="10.20" height="10.20" fill="#fff" stroke="#ff0000" stroke-width="1.0" />
<rect x="306.56" y="380.22" width="10.20" height="10.20" fill="#fff" stroke="#ff0000" stroke-width="1.0" />
<rect x="307.80" y="380.25" width="10.20" height="10.20" fill="#fff" stroke="#ff0000" stroke-width="1.0" />
<rect x="308.98" y="380.27" width="10.20" height="10.20" fill="#fff" stroke="#ff0000" stroke-width="1.0" />
<rect x="310.12" y="380.30" width="10.20" height="10.20" fill="#fff" stroke="#ff0000" stroke-width="1.0" />
<rect x="311.22" y="380.32" width="10.20" height="10.20" fill="#fff" stroke="#ff0000" stroke-width="1.0" />
<rect x="312.28" y="380.35" width="10.20" height="10.20" fill="#fff" stroke="#ff0000" stroke-width="1.0" />
<rect x="313.31" y="380.37" width="10.20" height="10.20" fill="#fff" stroke="#ff0000" stroke-width="1.0" />
<rect x="314.30" y="380.39" width="10.20" height="10.20" fill="#fff" stroke="#ff0000" stroke-width="1.0" />
<rect x="315.26" y="380.41" width="10.20" height="10.20" fill="#fff" stroke="#ff0000" stroke-width="1.0" />
<rect x="316.19" y="380.43" width="10.20" height="10.20" fill="#fff" stroke="#ff0000" stroke-width="1.0" />
<rect x="317.09" y="380.45" width="10.20" height="10.20" fill="#fff" stroke="#ff0000" stroke-width="1.0" />
<rect x="317.97" y="380.47" width="10.20" height="10.20" fill="#fff" stroke="#ff0000" stroke-width="1.0" />
<rect x="318.82" y="380.49" width="10.20" height="10.20" fill="#fff" stroke="#ff0000" stroke-width="1.0" />
<rect x="319.65" y="380.51" width="10.20" height="10.20" fill="#fff" stroke="#ff0000" stroke-width="1.0" />
<rect x="320.45" y="380.53" width="10.20" height="10.20" fill="#fff" stroke="#ff0000" stroke-width="1.0" />
<rect x="321.24" y="380.54" width="10.20" height="10.20" fill="#fff" stroke="#ff0000" stroke-width="1.0" />
<rect x="322.00" y="380.56" width="10.20" height="10.20" fill="#fff" stroke="#ff0000" stroke-width="1.0" />
<rect x="322.75" y="380.58" width="10.20" height="10.20" fill="#fff" stroke="#ff0000" stroke-width="1.0" />
<rect x="323.48" y="380.59" width="10.20" height="10.20" fill="#fff" stroke="#ff0000" stroke-width="1.0" />
<rect x="324.19" y="380.61" width="10.20" height="10.20" fill="#fff" stroke="#ff0000" stroke-width="1.0" />
<rect x="324.88" y="380.62" width="10.20" height="10.20" fill="#fff" stroke="#ff0000" stroke-width="1.0" />
<rect x="325.56" y="380.64" width="10.20" height="10.20" fill="#fff" stroke="#ff0000" stroke-width="1.0" />
<rect x="326.23" y="380.65" width="10.20" height="10.20" fill="#fff" stroke="#ff0000" stroke-width="1.0" />
<rect x="326.88" y="380.67" width="10.20" height="10.20" fill="#fff" stroke="#ff0000" stroke-width="1.0" />
<rect x="327.51" y="380.68" width="10.20" height="10.20" fill="#fff" stroke="#ff0000" stroke-width="1.0" />
<rect x="328.14" y="380.69" width="10.20" height="10.20" fill="#fff" stroke="#ff0000" stroke-width="1.0" />
<rect x="328.75" y="380.71" width="10.20" height="10.20" fill="#fff" stroke="#ff0000" stroke-width="1.0" />
<rect x="329.35" y="380.72" width="10.20" height="10.20" fill="#fff" stroke="#ff0000" stroke-width="1.0" />
<rect x="329.93" y="380.73" width="10.20" height="10.20" fill="#fff" stroke="#ff0000" stroke-width="1.0" />
<rect x="330.51" y="380.75" width="10.20" height="10.20" fill="#fff" stroke="#ff0000" stroke-width="1.0" />
<rect x="331.07" y="380.76" width="10.20" height="10.20" fill="#fff" stroke="#ff0000" stroke-width="1.0" />
<rect x="331.63" y="380.77" width="10.20" height="10.20" fill="#fff" stroke="#ff0000" stroke-width="1.0" />
<rect x="332.17" y="380.78" width="10.20" height="10.20" fill="#fff" stroke="#ff0000" stroke-width="1.0" />
<rect x="332.71" y="380.79" width="10.20" height="10.20" fill="#fff" stroke="#ff0000" stroke-width="1.0" />
<rect x="333.23" y="380.81" width="10.20" height="10.20" fill="#fff" stroke="#ff0000" stroke-width="1.0" />
<rect x="333.75" y="380.82" width="10.20" height="10.20" fill="#fff" stroke="#ff0000" stroke-width="1.0" />
<rect x="334.26" y="380.83" width="10.20" height="10.20" fill="#fff" stroke="#ff0000" stroke-width="1.0" />
<rect x="334.76" y="380.84" width="10.20" height="10.20" fill="#fff" stroke="#ff0000" stroke-width="1.0" />
<rect x="335.25" y="380.85" width="10.20" height="10.20" fill="#fff" stroke="#ff0000" stroke-width="1.0" />
<rect x="335.73" y="380.86" width="10.20" height="10.20" fill="#fff" stroke="#ff0000" stroke-width="1.0" />
<rect x="336.21" y="380.87" width="10.20" height="10.20" fill="#fff" stroke="#ff0000" stroke-width="1.0" />
<rect x="336.68" y="380.88" width="10.20" height="10.20" fill="#fff" stroke="#ff0000" stroke-width="1.0" />
<rect x="337.14" y="380.89" width="10.20" height="10.20" fill="#fff" stroke="#ff0000" stroke-width="1.0" />
<rect x="337.59" y="380.90" width="10.20" height="10.20" fill="#fff" stroke="#ff0000" stroke-width="1.0" />
<rect x="338.04" y="380.91" width="10.20" height="10.20" fill="#fff" stroke="#ff0000" stroke-width="1.0" />
<rect x="338.48" y="380.92" width="10.20" height="10.20" fill="#fff" stroke="#ff0000" stroke-width="1.0" />
<rect x="338.92" y="380.93" width="10.20" height="10.20" fill="#fff" stroke="#ff0000" stroke-width="1.0" />
<rect x="339.35" y="380.94" width="10.20" height="10.20" fill="#fff" stroke="#ff0000" stroke-width="1.0" />
<rect x="339.77" y="380.95" width="10.20" height="10.20" fill="#fff" stroke="#ff0000" stroke-width="1.0" />
<rect x="340.19" y="380.96" width="10.20" height="10.20" fill="#fff" stroke="#ff0000" stroke-width="1.0" />
<rect x="340.60" y="380.97" width="10.20" height="10.20" fill="#fff" stroke="#ff0000" stroke-width="1.0" />
<rect x="341.00" y="380.98" width="10.20" height="10.20" fill="#fff" stroke="#ff0000" stroke-width="1.0" />
<rect x="341.40" y="380.98" width="10.20" height="10.20" fill="#fff" stroke="#ff0000" stroke-width="1.0" />
<rect x="341.80" y="380.99" width="10.20" height="10.20" fill="#fff" stroke="#ff0000" stroke-width="1.0" />
<rect x="342.19" y="381.00" width="10.20" height="10.20" fill="#fff" stroke="#ff0000" stroke-width="1.0" />
<rect x="342.57" y="381.01" width="10.20" height="10.20" fill="#fff" stroke="#ff0000" stroke-width="1.0" />
<rect x="342.96" y="381.02" width="10.20" height="10.20" fill="#fff" stroke="#ff0000" stroke-width="1.0" />
<rect x="343.33" y="381.03" width="10.20" height="10.20" fill="#fff" stroke="#ff0000" stroke-width="1.0" />
<rect x="343.70" y="381.03" width="10.20" height="10.20" fill="#fff" stroke="#ff0000" stroke-width="1.0" />
<rect x="344.07" y="381.04" width="10.20" height="10.20" fill="#fff" stroke="#ff0000" stroke-width="1.0" />
<rect x="344.43" y="381.05" width="10.20" height="10.20" fill="#fff" stroke="#ff0000" stroke-width="1.0" />
<rect x="344.79" y="381.06" width="10.20" height="10.20" fill="#fff" stroke="#ff0000" stroke-width="1.0" />
<rect x="345.14" y="381.07" width="10.20" height="10.20" fill="#fff" stroke="#ff0000" stroke-width="1.0" />
<rect x="345.49" y="381.07" width="10.20" height="10.20" fill="#fff" stroke="#ff0000" stroke-width="1.0" />
<rect x="345.84" y="381.08" width="10.20" height="10.20" fill="#fff" stroke="#ff0000" stroke-width="1.0" />
<rect x="346.18" y="381.09" width="10.20" height="10.20" fill="#fff" stroke="#ff0000" stroke-width="1.0" />
<rect x="346.52" y="381.10" width="10.20" height="10.20" fill="#fff" stroke="#ff0000" stroke-width="1.0" />
<rect x="346.85" y="381.10" width="10.20" height="10.20" fill="#fff" stroke="#ff0000" stroke-width="1.0" />
<rect x="347.18" y="381.11" width="10.20" height="10.20" fill="#fff" stroke="#ff0000" stroke-width="1.0" />
<rect x="347.51" y="381.12" width="10.20" height="10.20" fill="#fff" stroke="#ff0000" stroke-width="1.0" />
<rect x="347.83" y="381.12" width="10.20" height="10.20" fill="#fff" stroke="#ff0000" stroke-width="1.0" />
<rect x="348.15" y="381.13" width="10.20" height="10.20" fill="#fff" stroke="#ff0000" stroke-width="1.0" />
<rect x="348.47" y="381.14" width="10.20" height="10.20" fill="#fff" stroke="#ff0000" stroke-width="1.0" />
<rect x="348.78" y="381.15" width="10.20" height="10.20" fill="#fff" stroke="#ff0000" stroke-width="1.0" />
<rect x="349.09" y="381.15" width="10.20" height="10.20" fill="#fff" stroke="#ff0000" stroke-width="1.0" />
<rect x="349.40" y="381.16" width="10.20" height="10.20" fill="#fff" stroke="#ff0000" stroke-width="1.0" />
<rect x="349.70" y="381.17" width="10.20" height="10.20" fill="#fff" stroke="#ff0000" stroke-width="1.0" />
<rect x="350.00" y="381.17" width="10.20" height="10.20" fill="#fff" stroke="#ff0000" stroke-width="1.0" />
<rect x="350.30" y="381.18" width="10.20" height="10.20" fill="#fff" stroke="#ff0000" stroke-width="1.0" />
<rect x="350.59" y="381.18" width="10.20" height="10.20" fill="#fff" stroke="#ff0000" stroke-width="1.0" />
<rect x="350.89" y="381.19" width="10.20" height="10.20" fill="#fff" stroke="#ff0000" stroke-width="1.0" />
<rect x="351.17" y="381.20" width="10.20" height="10.20" fill="#fff" stroke="#ff0000" stroke-width="1.0" />
<rect x="351.46" y="381.20" width="10.20" height="10.20" fill="#fff" stroke="#ff0000" stroke-width="1.0" />
<rect x="351.75" y="381.21" width="10.20" height="10.20" fill="#fff" stroke="#ff0000" stroke-width="1.0" />
<rect x="352.03" y="381.22" width="10.20" height="10.20" fill="#fff" stroke="#ff0000" stroke-width="1.0" />
<rect x="352.30" y="381.22" width="10.20" height="10.20" fill="#fff" stroke="#ff0000" stroke-width="1.0" />
<rect x="352.58" y="381.23" width="10.20" height="10.20" fill="#fff" stroke="#ff0000" stroke-width="1.0" />
<rect x="352.85" y="381.23" width="10.20" height="10.20" fill="#fff" stroke="#ff0000" stroke-width="1.0" />
<rect x="353.13" y="381.24" width="10.20" height="10.20" fill="#fff" stroke="#ff0000" stroke-width="1.0" />
<rect x="353.39" y="381.25" width="10.20" height="10.20" fill="#fff" stroke="#ff0000" stroke-width="1.0" />
<rect x="353.66" y="381.25" width="10.20" height="10.20" fill="#fff" stroke="#ff0000" stroke-width="1.0" />
<rect x="353.92" y="381.26" width="10.20" height="10.20" fill="#fff" stroke="#ff0000" stroke-width="1.0" />
<rect x="354.19" y="381.26" width="10.20" height="10.20" fill="#fff" stroke="#ff0000" stroke-width="1.0" />
<rect x="354.45" y="381.27" width="10.20" height="10.20" fill="#fff" stroke="#ff0000" stroke-width="1.0" />
<rect x="354.70" y="381.27" width="10.20" height="10.20" fill="#fff" stroke="#ff0000" stroke-width="1.0" />
<rect x="354.96" y="381.28" width="10.20" height="10.20" fill="#fff" stroke="#ff0000" stroke-width="1.0" />
<rect x="355.21" y="381.29" width="10.20" height="10.20" fill="#fff" stroke="#ff0000" stroke-width="1.0" />
<rect x="355.46" y="381.29" width="10.20" height="10.20" fill="#fff" stroke="#ff0000" stroke-width="1.0" />
<rect x="355.71" y="381.30" width="10.20" height="10.20" fill="#fff" stroke="#ff0000" stroke-width="1.0" />
<rect x="355.96" y="381.30" width="10.20" height="10.20" fill="#fff" stroke="#ff0000" stroke-width="1.0" />
<rect x="356.20" y="381.31" width="10.20" height="10.20" fill="#fff" stroke="#ff0000" stroke-width="1.0" />
<rect x="356.44" y="381.31" width="10.20" height="10.20" fill="#fff" stroke="#ff0000" stroke-width="1.0" />
<rect x="356.69" y="381.32" width="10.20" height="10.20" fill="#fff" stroke="#ff0000" stroke-width="1.0" />
<rect x="356.92" y="381.32" width="10.20" height="10.20" fill="#fff" stroke="#ff0000" stroke-width="1.0" />
<rect x="357.16" y="381.33" width="10.20" height="10.20" fill="#fff" stroke="#ff0000" stroke-width="1.0" />
<rect x="357.40" y="381.33" width="10.20" height="10.20" fill="#fff" stroke="#ff0000" stroke-width="1.0" />
<rect x="357.63" y="381.34" width="10.20" height="10.20" fill="#fff" stroke="#ff0000" stroke-width="1.0" />
<rect x="357.86" y="381.34" width="10.20" height="10.20" fill="#fff" stroke="#ff0000" stroke-width="1.0" />
<rect x="358.09" y="381.35" width="10.20" height="10.20" fill="#fff" stroke="#ff0000" stroke-width="1.0" />
<rect x="358.32" y="381.35" width="10.20" height="10.20" fill="#fff" stroke="#ff0000" stroke-width="1.0" />
<rect x="358.55" y="381.36" width="10.20" height="10.20" fill="#fff" stroke="#ff0000" stroke-width="1.0" />
<rect x="358.77" y="381.36" width="10.20" height="10.20" fill="#fff" stroke="#ff0000" stroke-width="1.0" />
<rect x="358.99" y="381.37" width="10.20" height="10.20" fill="#fff" stroke="#ff0000" stroke-width="1.0" />
<rect x="359.22" y="381.37" width="10.20" height="10.20" fill="#fff" stroke="#ff0000" stroke-width="1.0" />
<rect x="359.44" y="381.38" width="10.20" height="10.20" fill="#fff" stroke="#ff0000" stroke-width="1.0" />
<rect x="359.65" y="381.38" width="10.20" height="10.20" fill="#fff" stroke="#ff0000" stroke-width="1.0" />
<rect x="359.87" y="381.39" width="10.20" height="10.20" fill="#fff" stroke="#ff0000" stroke-width="1.0" />
<rect x="360.09" y="381.39" width="10.20" height="10.20" fill="#fff" stroke="#ff0000" stroke-width="1.0" />
<rect x="360.30" y="381.40" width="10.20" height="10.20" fill="#fff" stroke="#ff0000" stroke-width="1.0" />
<rect x="360.51" y="381.40" width="10.20" height="10.20" fill="#fff" stroke="#ff0000" stroke-width="1.0" />
<rect x="360.72" y="381.41" width="10.20" height="10.20" fill="#fff" stroke="#ff0000" stroke-width="1.0" />
<rect x="360.93" y="381.41" width="10.20" height="10.20" fill="#fff" stroke="#ff0000" stroke-width="1.0" />
<rect x="361.14" y="381.42" width="10.20" height="10.20" fill="#fff" stroke="#ff0000" stroke-width="1.0" />
<rect x="361.35" y="381.42" width="10.20" height="10.20" fill="#fff" stroke="#ff0000" stroke-width="1.0" />
<rect x="361.55" y="381.42" width="10.20" height="10.20" fill="#fff" stroke="#ff0000" stroke-width="1.0" />
<rect x="361.75" y="381.43" width="10.20" height="10.20" fill="#fff" stroke="#ff0000" stroke-width="1.0" />
<rect x="361.96" y="381.43" width="10.20" height="10.20" fill="#fff" stroke="#ff0000" stroke-width="1.0" />
<rect x="362.16" y="381.44" width="10.20" height="10.20" fill="#fff" stroke="#ff0000" stroke-width="1.0" />
<rect x="362.36" y="381.44" width="10.20" height="10.20" fill="#fff" stroke="#ff0000" stroke-width="1.0" />
<rect x="362.55" y="381.45" width="10.20" height="10.20" fill="#fff" stroke="#ff0000" stroke-width="1.0" />
<rect x="362.75" y="381.45" width="10.20" height="10.20" fill="#fff" stroke="#ff0000" stroke-width="1.0" />
<rect x="362.95" y="381.45" width="10.20" height="10.20" fill="#fff" stroke="#ff0000" stroke-width="1.0" />
<rect x="363.14" y="381.46" width="10.20" height="10.20" fill="#fff" stroke="#ff0000" stroke-width="1.0" />
<rect x="363.33" y="381.46" width="10.20" height="10.20" fill="#fff" stroke="#ff0000" stroke-width="1.0" />
<rect x="363.53" y="381.47" width="10.20" height="10.20" fill="#fff" stroke="#ff0000" stroke-width="1.0" />
<rect x="363.72" y="381.47" width="10.20" height="10.20" fill="#fff" stroke="#ff0000" stroke-width="1.0" />
<rect x="363.91" y="381.48" width="10.20" height="10.20" fill="#fff" stroke="#ff0000" stroke-width="1.0" />
<rect x="364.10" y="381.48" width="10.20" height="10.20" fill="#fff" stroke="#ff0000" stroke-width="1.0" />
<rect x="364.28" y="381.48" width="10.20" height="10.20" fill="#fff" stroke="#ff0000" stroke-width="1.0" />
<rect x="364.47" y="381.49" width="10.20" height="10.20" fill="#fff" stroke="#ff0000" stroke-width="1.0" />
<rect x="364.65" y="381.49" width="10.20" height="10.20" fill="#fff" stroke="#ff0000" stroke-width="1.0" />
<rect x="364.84" y="381.50" width="10.20" height="10.20" fill="#fff" stroke="#ff0000" stroke-width="1.0" />
<rect x="71.30" y="455.90" width="10.20" height="10.20" fill="#fff" stroke="#0000ff" stroke-width="1.0" />
<rect x="140.90" y="455.90" width="10.20" height="10.20" fill="#fff" stroke="#0000ff" stroke-width="1.0" />
<rect x="210.50" y="455.90" width="10.20" height="10.20" fill="#fff" stroke="#0000ff" stroke-width="1.0" />
<rect x="231.45" y="455.78" width="10.20" height="10.20" fill="#fff" stroke="#0000ff" stroke-width="1.0" />
<rect x="243.71" y="455.71" width="10.20" height="10.20" fill="#fff" stroke="#0000ff" stroke-width="1.0" />
<rect x="252.40" y="455.66" width="10.20" height="10.20" fill="#fff" stroke="#0000ff" stroke-width="1.0" />
<rect x="259.15" y="455.62" width="10.20" height="10.20" fill="#fff" stroke="#0000ff" stroke-width="1.0" />
<rect x="264.66" y="455.59" width="10.20" height="10.20" fill="#fff" stroke="#0000ff" stroke-width="1.0" />
<rect x="269.32" y="455.56" width="10.20" height="10.20" fill="#fff" stroke="#0000ff" stroke-width="1.0" />
<rect x="273.36" y="455.54" width="10.20" height="10.20" fill="#fff" stroke="#0000ff" stroke-width="1.0" />
<rect x="276.92" y="455.52" width="10.20" height="10.20" fill="#fff" stroke="#0000ff" stroke-width="1.0" />
<rect x="280.10" y="455.50" width="10.20" height="10.20" fill="#fff" stroke="#0000ff" stroke-width="1.0" />
<rect x="282.98" y="455.41" width="10.20" height="10.20" fill="#fff" stroke="#0000ff" stroke-width="1.0" />
<rect x="285.61" y="455.33" width="10.20" height="10.20" fill="#fff" stroke="#0000ff" stroke-width="1.0" />
<rect x="288.03" y="455.25" width="10.20" height="10.20" fill="#fff" stroke="#0000ff" stroke-width="1.0" />
<rect x="290.27" y="455.18" width="10.20" height="10.20" fill="#fff" stroke="#0000ff" stroke-width="1.0" />
<rect x="292.36" y="455.11" width="10.20" height="10.20" fill="#fff" stroke="#0000ff" stroke-width="1.0" />
<rect x="294.31" y="455.05" width="10.20" height="10.20" fill="#fff" stroke="#0000ff" stroke-width="1.0" />
<rect x="296.14" y="454.99" width="10.20" height="10.20" fill="#fff" stroke="#0000ff" stroke-width="1.0" />
<rect x="297.87" y="454.94" width="10.20" height="10.20" fill="#fff" stroke="#0000ff" stroke-width="1.0" />
<rect x="299.50" y="454.89" width="10.20" height="10.20" fill="#fff" stroke="#0000ff" stroke-width="1.0" />
<rect x="301.05" y="454.84" width="10.20" height="10.20" fill="#fff" stroke="#0000ff" stroke-width="1.0" />
<rect x="302.53" y="454.79" width="10.20" height="10.20" fill="#fff" stroke="#0000ff" stroke-width="1.0" />
<rect x="303.93" y="454.75" width="10.20" height="10.20" fill="#fff" stroke="#0000ff" stroke-width="1.0" />
<rect x="305.28" y="454.70" width="10.20" height="10.20" fill="#fff" stroke="#0000ff" stroke-width="1.0" />
<rect x="306.56" y="454.66" width="10.20" height="10.20" fill="#fff" stroke="#0000ff" stroke-width="1.0" />
<rect x="307.80" y="454.62" width="10.20" height="10.20" fill="#fff" stroke="#0000ff" stroke-width="1.0" />
<rect x="308.98" y="454.57" width="10.20" height="10.20" fill="#fff" stroke="#0000ff" stroke-width="1.0" />
<rect x="310.12" y="454.47" width="10.20" height="10.20" fill="#fff" stroke="#0000ff" stroke-width="1.0" />
<rect x="311.22" y="454.57" width="10.20" height="10.20" fill="#fff" stroke="#0000ff" stroke-width="1.0" />
<rect x="312.28" y="454.28" width="10.20" height="10.20" fill="#fff" stroke="#0000ff" stroke-width="1.0" />
<rect x="313.31" y="454.47" width="10.20" height="10.20" fill="#fff" stroke="#0000ff" stroke-width="1.0" />
<rect x="314.30" y="454.33" width="10.20" height="10.20" fill="#fff" stroke="#0000ff" stroke-width="1.0" />
<rect x="315.26" y="454.03" width="10.20" height="10.20" fill="#fff" stroke="#0000ff" stroke-width="1.0" />
<rect x="316.19" y="454.33" width="10.20" height="10.20" fill="#fff" stroke="#0000ff" stroke-width="1.0" />
<rect x="317.09" y="453.81" width="10.20" height="10.20" fill="#fff" stroke="#0000ff" stroke-width="1.0" />
<rect x="317.97" y="454.14" width="10.20" height="10.20" fill="#fff" stroke="#0000ff" stroke-width="1.0" />
<rect x="318.82" y="453.66" width="10.20" height="10.20" fill="#fff" stroke="#0000ff" stroke-width="1.0" />
<rect x="319.65" y="453.60" width="10.20" height="10.20" fill="#fff" stroke="#0000ff" stroke-width="1.0" />
<rect x="320.45" y="453.97" width="10.20" height="10.20" fill="#fff" stroke="#0000ff" stroke-width="1.0" />
<rect x="321.24" y="454.49" width="10.20" height="10.20" fill="#fff" stroke="#0000ff" stroke-width="1.0" />
<rect x="322.00" y="453.40" width="10.20" height="10.20" fill="#fff" stroke="#0000ff" stroke-width="1.0" />
<rect x="322.75" y="453.49" width="10.20" height="10.20" fill="#fff" stroke="#0000ff" stroke-width="1.0" />
<rect x="323.48" y="454.10" width="10.20" height="10.20" fill="#fff" stroke="#0000ff" stroke-width="1.0" />
<rect x="324.19" y="454.63" width="10.20" height="10.20" fill="#fff" stroke="#0000ff" stroke-width="1.0" />
<rect x="324.88" y="453.94" width="10.20" height="10.20" fill="#fff" stroke="#0000ff" stroke-width="1.0" />
<rect x="325.56" y="453.57" width="10.20" height="10.20" fill="#fff" stroke="#0000ff" stroke-width="1.0" />
<rect x="326.23" y="454.66" width="10.20" height="10.20" fill="#fff" stroke="#0000ff" stroke-width="1.0" />
<rect x="326.88" y="452.76" width="10.20" height="10.20" fill="#fff" stroke="#0000ff" stroke-width="1.0" />
<rect x="327.51" y="454.40" width="10.20" height="10.20" fill="#fff" stroke="#0000ff" stroke-width="1.0" />
<rect x="328.14" y="453.15" width="10.20" height="10.20" fill="#fff" stroke="#0000ff" stroke-width="1.0" />
<rect x="328.75" y="452.77" width="10.20" height="10.20" fill="#fff" stroke="#0000ff" stroke-width="1.0" />
<rect x="329.35" y="452.65" width="10.20" height="10.20" fill="#fff" stroke="#0000ff" stroke-width="1.0" />
<rect x="329.93" y="453.05" width="10.20" height="10.20" fill="#fff" stroke="#0000ff" stroke-width="1.0" />
<rect x="330.51" y="454.23" width="10.20" height="10.20" fill="#fff" stroke="#0000ff" stroke-width="1.0" />
<rect x="331.07" y="452.64" width="10.20" height="10.20" fill="#fff" stroke="#0000ff" stroke-width="1.0" />
<rect x="331.63" y="453.61" width="10.20" height="10.20" fill="#fff" stroke="#0000ff" stroke-width="1.0" />
<rect x="332.17" y="453.73" width="10.20" height="10.20" fill="#fff" stroke="#0000ff" stroke-width="1.0" />
<rect x="332.71" y="452.99" width="10.20" height="10.20" fill="#fff" stroke="#0000ff" stroke-width="1.0" />
<rect x="333.23" y="453.43" width="10.20" height="10.20" fill="#fff" stroke="#0000ff" stroke-width="1.0" />
<rect x="333.75" y="452.06" width="10.20" height="10.20" fill="#fff" stroke="#0000ff" stroke-width="1.0" />
<rect x="334.26" y="451.99" width="10.20" height="10.20" fill="#fff" stroke="#0000ff" stroke-width="1.0" />
<rect x="334.76" y="452.36" width="10.20" height="10.20" fill="#fff" stroke="#0000ff" stroke-width="1.0" />
<rect x="335.25" y="453.71" width="10.20" height="10.20" fill="#fff" stroke="#0000ff" stroke-width="1.0" />
<rect x="335.73" y="452.94" width="10.20" height="10.20" fill="#fff" stroke="#0000ff" stroke-width="1.0" />
<rect x="336.21" y="452.56" width="10.20" height="10.20" fill="#fff" stroke="#0000ff" stroke-width="1.0" />
<rect x="336.68" y="453.36" width="10.20" height="10.20" fill="#fff" stroke="#0000ff" stroke-width="1.0" />
<rect x="337.14" y="452.92" width="10.20" height="10.20" fill="#fff" stroke="#0000ff" stroke-width="1.0" />
<rect x="337.59" y="452.40" width="10.20" height="10.20" fill="#fff" stroke="#0000ff" stroke-width="1.0" />
<rect x="338.04" y="453.97" width="10.20" height="10.20" fill="#fff" stroke="#0000ff" stroke-width="1.0" />
<rect x="338.48" y="453.64" width="10.20" height="10.20" fill="#fff" stroke="#0000ff" stroke-width="1.0" />
<rect x="338.92" y="452.11" width="10.20" height="10.20" fill="#fff" stroke="#0000ff" stroke-width="1.0" />
<rect x="339.35" y="453.19" width="10.20" height="10.20" fill="#fff" stroke="#0000ff" stroke-width="1.0" />
<rect x="339.77" y="453.00" width="10.20" height="10.20" fill="#fff" stroke="#0000ff" stroke-width="1.0" />
<rect x="340.19" y="454.19" width="10.20" height="10.20" fill="#fff" stroke="#0000ff" stroke-width="1.0" />
<rect x="340.60" y="453.67" width="10.20" height="10.20" fill="#fff" stroke="#0000ff" stroke-width="1.0" />
<rect x="341.00" y="452.08" width="10.20" height="10.20" fill="#fff" stroke="#0000ff" stroke-width="1.0" />
<rect x="341.40" y="454.54" width="10.20" height="10.20" fill="#fff" stroke="#0000ff" stroke-width="1.0" />
<rect x="341.80" y="451.40" width="10.20" height="10.20" fill="#fff" stroke="#0000ff" stroke-width="1.0" />
<rect x="342.19" y="452.46" width="10.20" height="10.20" fill="#fff" stroke="#0000ff" stroke-width="1.0" />
<rect x="342.57" y="453.70" width="10.20" height="10.20" fill="#fff" stroke="#0000ff" stroke-width="1.0" />
<rect x="342.96" y="451.41" width="10.20" height="10.20" fill="#fff" stroke="#0000ff" stroke-width="1.0" />
<rect x="343.33" y="452.66" width="10.20" height="10.20" fill="#fff" stroke="#0000ff" stroke-width="1.0" />
<rect x="343.70" y="450.90" width="10.20" height="10.20" fill="#fff" stroke="#0000ff" stroke-width="1.0" />
<rect x="344.07" y="453.31" width="10.20" height="10.20" fill="#fff" stroke="#0000ff" stroke-width="1.0" />
<rect x="344.43" y="453.67" width="10.20" height="10.20" fill="#fff" stroke="#0000ff" stroke-width="1.0" />
<rect x="344.79" y="452.90" width="10.20" height="10.20" fill="#fff" stroke="#0000ff" stroke-width="1.0" />
<rect x="345.14" y="454.09" width="10.20" height="10.20" fill="#fff" stroke="#0000ff" stroke-width="1.0" />
<rect x="345.49" y="451.82" width="10.20" height="10.20" fill="#fff" stroke="#0000ff" stroke-width="1.0" />
<rect x="345.84" y="453.35" width="10.20" height="10.20" fill="#fff" stroke="#0000ff" stroke-width="1.0" />
<rect x="346.18" y="452.92" width="10.20" height="10.20" fill="#fff" stroke="#0000ff" stroke-width="1.0" />
<rect x="346.52" y="452.84" width="10.20" height="10.20" fill="#fff" stroke="#0000ff" stroke-width="1.0" />
<rect x="346.85" y="452.30" width="10.20" height="10.20" fill="#fff" stroke="#0000ff" stroke-width="1.0" />
<rect x="347.18" y="453.91" width="10.20" height="10.20" fill="#fff" stroke="#0000ff" stroke-width="1.0" />
<rect x="347.51" y="454.34" width="10.20" height="10.20" fill="#fff" stroke="#0000ff" stroke-width="1.0" />
<rect x="347.83" y="452.32" width="10.20" height="10.20" fill="#fff" stroke="#0000ff" stroke-width="1.0" />
<rect x="348.15" y="453.12" width="10.20" height="10.20" fill="#fff" stroke="#0000ff" stroke-width="1.0" />
<rect x="348.47" y="450.47" width="10.20" height="10.20" fill="#fff" stroke="#0000ff" stroke-width="1.0" />
<rect x="348.78" y="453.26" width="10.20" height="10.20" fill="#fff" stroke="#0000ff" stroke-width="1.0" />
<rect x="349.09" y="453.01" width="10.20" height="10.20" fill="#fff" stroke="#0000ff" stroke-width="1.0" />
<rect x="349.40" y="454.54" width="10.20" height="10.20" fill="#fff" stroke="#0000ff" stroke-width="1.0" />
<rect x="349.70" y="453.77" width="10.20" height="10.20" fill="#fff" stroke="#0000ff" stroke-width="1.0" />
<rect x="350.00" y="451.32" width="10.20" height="10.20" fill="#fff" stroke="#0000ff" stroke-width="1.0" />
<rect x="350.30" y="451.76" width="10.20" height="10.20" fill="#fff" stroke="#0000ff" stroke-width="1.0" />
<rect x="350.59" y="453.04" width="10.20" height="10.20" fill="#fff" stroke="#0000ff" stroke-width="1.0" />
<rect x="350.89" y="450.04" width="10.20" height="10.20" fill="#fff" stroke="#0000ff" stroke-width="1.0" />
<rect x="351.17" y="452.05" width="10.20" height="10.20" fill="#fff" stroke="#0000ff" stroke-width="1.0" />
<rect x="351.46" y="450.65" width="10.20" height="10.20" fill="#fff" stroke="#0000ff" stroke-width="1.0" />
<rect x="351.75" y="450.39" width="10.20" height="10.20" fill="#fff" stroke="#0000ff" stroke-width="1.0" />
<rect x="352.03" y="450.08" width="10.20" height="10.20" fill="#fff" stroke="#0000ff" stroke-width="1.0" />
<rect x="352.30" y="453.44" width="10.20" height="10.20" fill="#fff" stroke="#0000ff" stroke-width="1.0" />
<rect x="352.58" y="450.36" width="10.20" height="10.20" fill="#fff" stroke="#0000ff" stroke-width="1.0" />
<rect x="352.85" y="450.91" width="10.20" height="10.20" fill="#fff" stroke="#0000ff" stroke-width="1.0" />
<rect x="353.13" y="451.58" width="10.20" height="10.20" fill="#fff" stroke="#0000ff" stroke-width="1.0" />
<rect x="353.39" y="453.91" width="10.20" height="10.20" fill="#fff" stroke="#0000ff" stroke-width="1.0" />
<rect x="353.66" y="450.01" width="10.20" height="10.20" fill="#fff" stroke="#0000ff" stroke-width="1.0" />
<rect x="353.92" y="451.81" width="10.20" height="10.20" fill="#fff" stroke="#0000ff" stroke-width="1.0" />
<rect x="354.19" y="452.29" width="10.20" height="10.20" fill="#fff" stroke="#0000ff" stroke-width="1.0" />
<rect x="354.45" y="453.95" width="10.20" height="10.20" fill="#fff" stroke="#0000ff" stroke-width="1.0" />
<rect x="354.70" y="453.63" width="10.20" height="10.20" fill="#fff" stroke="#0000ff" stroke-width="1.0" />
<rect x="354.96" y="453.85" width="10.20" height="10.20" fill="#fff" stroke="#0000ff" stroke-width="1.0" />
<rect x="355.21" y="450.86" width="10.20" height="10.20" fill="#fff" stroke="#0000ff" stroke-width="1.0" />
<rect x="355.46" y="451.54" width="10.20" height="10.20" fill="#fff" stroke="#0000ff" stroke-width="1.0" />
<rect x="355.71" y="451.23" width="10.20" height="10.20" fill="#fff" stroke="#0000ff" stroke-width="1.0" />
<rect x="355.96" y="453.93" width="10.20" height="10.20" fill="#fff" stroke="#0000ff" stroke-width="1.0" />
<rect x="356.20" y="454.31" width="10.20" height="10.20" fill="#fff" stroke="#0000ff" stroke-width="1.0" />
<rect x="356.44" y="450.09" width="10.20" height="10.20" fill="#fff" stroke="#0000ff" stroke-width="1.0" />
<rect x="356.69" y="450.20" width="10.20" height="10.20" fill="#fff" stroke="#0000ff" stroke-width="1.0" />
<rect x="356.92" y="450.47" width="10.20" height="10.20" fill="#fff" stroke="#0000ff" stroke-width="1.0" />
<rect x="357.16" y="450.46" width="10.20" height="10.20" fill="#fff" stroke="#0000ff" stroke-width="1.0" />
<rect x="357.40" y="451.78" width="10.20" height="10.20" fill="#fff" stroke="#0000ff" stroke-width="1.0" />
<rect x="357.63" y="452.32" width="10.20" height="10.20" fill="#fff" stroke="#0000ff" stroke-width="1.0" />
<rect x="357.86" y="450.55" width="10.20" height="10.20" fill="#fff" stroke="#0000ff" stroke-width="1.0" />
<rect x="358.09" y="449.13" width="10.20" height="10.20" fill="#fff" stroke="#0000ff" stroke-width="1.0" />
<rect x="358.32" y="451.36" width="10.20" height="10.20" fill="#fff" stroke="#0000ff" stroke-width="1.0" />
<rect x="358.55" y="451.07" width="10.20" height="10.20" fill="#fff" stroke="#0000ff" stroke-width="1.0" />
<rect x="358.77" y="452.14" width="10.20" height="10.20" fill="#fff" stroke="#0000ff" stroke-width="1.0" />
<rect x="358.99" y="454.25" width="10.20" height="10.20" fill="#fff" stroke="#0000ff" stroke-width="1.0" />
<rect x="359.22" y="452.80" width="10.20" height="10.20" fill="#fff" stroke="#0000ff" stroke-width="1.0" />
<rect x="359.44" y="451.82" width="10.20" height="10.20" fill="#fff" stroke="#0000ff" stroke-width="1.0" />
<rect x="359.65" y="452.38" width="10.20" height="10.20" fill="#fff" stroke="#0000ff" stroke-width="1.0" />
<rect x="359.87" y="452.69" width="10.20" height="10.20" fill="#fff" stroke="#0000ff" stroke-width="1.0" />
<rect x="360.09" y="449.19" width="10.20" height="10.20" fill="#fff" stroke="#0000ff" stroke-width="1.0" />
<rect x="360.30" y="453.94" width="10.20" height="10.20" fill="#fff" stroke="#0000ff" stroke-width="1.0" />
<rect x="360.51" y="453.26" width="10.20" height="10.20" fill="#fff" stroke="#0000ff" stroke-width="1.0" />
<rect x="360.72" y="453.79" width="10.20" height="10.20" fill="#fff" stroke="#0000ff" stroke-width="1.0" />
<rect x="360.93" y="453.35" width="10.20" height="10.20" fill="#fff" stroke="#0000ff" stroke-width="1.0" />
<rect x="361.14" y="451.01" width="10.20" height="10.20" fill="#fff" stroke="#0000ff" stroke-width="1.0" />
<rect x="361.35" y="451.04" width="10.20" height="10.20" fill="#fff" stroke="#0000ff" stroke-width="1.0" />
<rect x="361.55" y="449.32" width="10.20" height="10.20" fill="#fff" stroke="#0000ff" stroke-width="1.0" />
<rect x="361.75" y="452.37" width="10.20" height="10.20" fill="#fff" stroke="#0000ff" stroke-width="1.0" />
<rect x="361.96" y="449.03" width="10.20" height="10.20" fill="#fff" stroke="#0000ff" stroke-width="1.0" />
<rect x="362.16" y="449.04" width="10.20" height="10.20" fill="#fff" stroke="#0000ff" stroke-width="1.0" />
<rect x="362.36" y="449.85" width="10.20" height="10.20" fill="#fff" stroke="#0000ff" stroke-width="1.0" />
<rect x="362.55" y="449.56" width="10.20" height="10.20" fill="#fff" stroke="#0000ff" stroke-width="1.0" />
<rect x="362.75" y="450.59" width="10.20" height="10.20" fill="#fff" stroke="#0000ff" stroke-width="1.0" />
<rect x="362.95" y="448.87" width="10.20" height="10.20" fill="#fff" stroke="#0000ff" stroke-width="1.0" />
<rect x="363.14" y="448.54" width="10.20" height="10.20" fill="#fff" stroke="#0000ff" stroke-width="1.0" />
<rect x="363.33" y="449.42" width="10.20" height="10.20" fill="#fff" stroke="#0000ff" stroke-width="1.0" />
<rect x="363.53" y="449.10" width="10.20" height="10.20" fill="#fff" stroke="#0000ff" stroke-width="1.0" />
<rect x="363.72" y="450.66" width="10.20" height="10.20" fill="#fff" stroke="#0000ff" stroke-width="1.0" />
<rect x="363.91" y="448.60" width="10.20" height="10.20" fill="#fff" stroke="#0000ff" stroke-width="1.0" />
<rect x="364.10" y="453.72" width="10.20" height="10.20" fill="#fff" stroke="#0000ff" stroke-width="1.0" />
<rect x="364.28" y="452.14" width="10.20" height="10.20" fill="#fff" stroke="#0000ff" stroke-width="1.0" />
<rect x="364.47" y="449.29" width="10.20" height="10.20" fill="#fff" stroke="#0000ff" stroke-width="1.0" />
<rect x="364.65" y="449.91" width="10.20" height="10.20" fill="#fff" stroke="#0000ff" stroke-width="1.0" />
<rect x="364.84" y="450.47" width="10.20" height="10.20" fill="#fff" stroke="#0000ff" stroke-width="1.0" />
<polygon points="323.07,379.97 323.92,379.99 324.75,380.01 325.55,380.03 326.34,380.04 327.10,380.06 327.85,380.08 328.58,380.09 329.29,380.11 329.98,380.12 330.66,380.14 331.33,380.15 331.98,380.17 332.61,380.18 333.24,380.19 333.85,380.21 334.45,380.22 335.03,380.23 335.61,380.25 336.17,380.26 336.73,380.27 337.27,380.28 337.81,380.29 338.33,380.31 338.85,380.32 339.36,380.33 339.86,380.34 340.35,380.35 340.83,380.36 341.31,380.37 341.78,380.38 342.24,380.39 342.69,380.40 343.14,380.41 343.58,380.42 344.02,380.43 344.45,380.44 344.87,380.45 345.29,380.46 345.70,380.47 346.10,380.48 346.50,380.48 346.90,380.49 347.29,380.50 347.67,380.51 348.06,380.52 348.43,380.53 348.80,380.53 349.17,380.54 349.53,380.55 349.89,380.56 350.24,380.57 350.59,380.57 350.94,380.58 351.28,380.59 351.62,380.60 351.95,380.60 352.28,380.61 352.61,380.62 352.93,380.62 353.25,380.63 353.57,380.64 353.88,380.65 354.19,380.65 354.50,380.66 354.80,380.67 355.10,380.67 355.40,380.68 355.69,380.68 355.99,380.69 356.27,380.70 356.56,380.70 356.85,380.71 357.13,380.72 357.40,380.72 357.68,380.73 357.95,380.73 358.23,380.74 358.49,380.75 358.76,380.75 359.02,380.76 359.29,380.76 359.55,380.77 359.80,380.77 360.06,380.78 360.31,380.79 360.56,380.79 360.81,380.80 361.06,380.80 361.30,380.81 361.54,380.81 361.79,380.82 362.02,380.82 362.26,380.83 362.50,380.83 362.73,380.84 362.96,380.84 363.19,380.85 363.42,380.85 363.65,380.86 363.87,380.86 364.09,380.87 364.32,380.87 364.54,380.88 364.75,380.88 364.97,380.89 365.19,380.89 365.40,380.90 365.61,380.90 365.82,380.91 365.82,392.11 365.61,392.10 365.40,392.10 365.19,392.09 364.97,392.09 364.75,392.08 364.54,392.08 364.32,392.07 364.09,392.07 363.87,392.06 363.65,392.06 363.42,392.05 363.19,392.05 362.96,392.04 362.73,392.04 362.50,392.03 362.26,392.03 362.02,392.02 361.79,392.02 361.54,392.01 361.30,392.01 361.06,392.00 360.81,392.00 360.56,391.99 360.31,391.99 360.06,391.98 359.80,391.97 359.55,391.97 359.29,391.96 359.02,391.96 358.76,391.95 358.49,391.95 358.23,391.94 357.95,391.93 357.68,391.93 357.40,391.92 357.13,391.92 356.85,391.91 356.56,391.90 356.27,391.90 355.99,391.89 355.69,391.88 355.40,391.88 355.10,391.87 354.80,391.87 354.50,391.86 354.19,391.85 353.88,391.85 353.57,391.84 353.25,391.83 352.93,391.82 352.61,391.82 352.28,391.81 351.95,391.80 351.62,391.80 351.28,391.79 350.94,391.78 350.59,391.77 350.24,391.77 349.89,391.76 349.53,391.75 349.17,391.74 348.80,391.73 348.43,391.73 348.06,391.72 347.67,391.71 347.29,391.70 346.90,391.69 346.50,391.68 346.10,391.68 345.70,391.67 345.29,391.66 344.87,391.65 344.45,391.64 344.02,391.63 343.58,391.62 343.14,391.61 342.69,391.60 342.24,391.59 341.78,391.58 341.31,391.57 340.83,391.56 340.35,391.55 339.86,391.54 339.36,391.53 338.85,391.52 338.33,391.51 337.81,391.49 337.27,391.48 336.73,391.47 336.17,391.46 335.61,391.45 335.03,391.43 334.45,391.42 333.85,391.41 333.24,391.39 332.61,391.38 331.98,391.37 331.33,391.35 330.66,391.34 329.98,391.32 329.29,391.31 328.58,391.29 327.85,391.28 327.10,391.26 326.34,391.24 325.55,391.23 324.75,391.21 323.92,391.19 323.07,391.17" fill="#ff0000"/>
<polygon points="323.07,453.64 323.92,453.16 324.75,453.10 325.55,453.47 326.34,453.99 327.10,452.90 327.85,452.99 328.58,453.60 329.29,454.13 329.98,453.44 330.66,453.07 331.33,454.16 331.98,452.26 332.61,453.90 333.24,452.65 333.85,452.27 334.45,452.15 335.03,452.55 335.61,453.73 336.17,452.14 336.73,453.11 337.27,453.23 337.81,452.49 338.33,452.93 338.85,451.56 339.36,451.49 339.86,451.86 340.35,453.21 340.83,452.44 341.31,452.06 341.78,452.86 342.24,452.42 342.69,451.90 343.14,453.47 343.58,453.14 344.02,451.61 344.45,452.69 344.87,452.50 345.29,453.69 345.70,453.17 346.10,451.58 346.50,454.04 346.90,450.90 347.29,451.96 347.67,453.20 348.06,450.91 348.43,452.16 348.80,450.40 349.17,452.81 349.53,453.17 349.89,452.40 350.24,453.59 350.59,451.32 350.94,452.85 351.28,452.42 351.62,452.34 351.95,451.80 352.28,453.41 352.61,453.84 352.93,451.82 353.25,452.62 353.57,449.97 353.88,452.76 354.19,452.51 354.50,454.04 354.80,453.27 355.10,450.82 355.40,451.26 355.69,452.54 355.99,449.54 356.27,451.55 356.56,450.15 356.85,449.89 357.13,449.58 357.40,452.94 357.68,449.86 357.95,450.41 358.23,451.08 358.49,453.41 358.76,449.51 359.02,451.31 359.29,451.79 359.55,453.45 359.80,453.13 360.06,453.35 360.31,450.36 360.56,451.04 360.81,450.73 361.06,453.43 361.30,453.81 361.54,449.59 361.79,449.70 362.02,449.97 362.26,449.96 362.50,451.28 362.73,451.82 362.96,450.05 363.19,448.63 363.42,450.86 363.65,450.57 363.87,451.64 364.09,453.75 364.32,452.30 364.54,451.32 364.75,451.88 364.97,452.19 365.19,448.69 365.40,453.44 365.61,452.76 365.82,453.29 365.82,464.49 365.61,463.96 365.40,464.64 365.19,459.89 364.97,463.39 364.75,463.08 364.54,462.52 364.32,463.50 364.09,464.95 363.87,462.84 363.65,461.77 363.42,462.06 363.19,459.83 362.96,461.25 362.73,463.02 362.50,462.48 362.26,461.16 362.02,461.17 361.79,460.90 361.54,460.79 361.30,465.01 361.06,464.63 360.81,461.93 360.56,462.24 360.31,461.56 360.06,464.55 359.80,464.33 359.55,464.65 359.29,462.99 359.02,462.51 358.76,460.71 358.49,464.61 358.23,462.28 357.95,461.61 357.68,461.06 357.40,464.14 357.13,460.78 356.85,461.09 356.56,461.35 356.27,462.75 355.99,460.74 355.69,463.74 355.40,462.46 355.10,462.02 354.80,464.47 354.50,465.24 354.19,463.71 353.88,463.96 353.57,461.17 353.25,463.82 352.93,463.02 352.61,465.04 352.28,464.61 351.95,463.00 351.62,463.54 351.28,463.62 350.94,464.05 350.59,462.52 350.24,464.79 349.89,463.60 349.53,464.37 349.17,464.01 348.80,461.60 348.43,463.36 348.06,462.11 347.67,464.40 347.29,463.16 346.90,462.10 346.50,465.24 346.10,462.78 345.70,464.37 345.29,464.89 344.87,463.70 344.45,463.89 344.02,462.81 343.58,464.34 343.14,464.67 342.69,463.10 342.24,463.62 341.78,464.06 341.31,463.26 340.83,463.64 340.35,464.41 339.86,463.06 339.36,462.69 338.85,462.76 338.33,464.13 337.81,463.69 337.27,464.43 336.73,464.31 336.17,463.34 335.61,464.93 335.03,463.75 334.45,463.35 333.85,463.47 333.24,463.85 332.61,465.10 331.98,463.46 331.33,465.36 330.66,464.27 329.98,464.64 329.29,465.33 328.58,464.80 327.85,464.19 327.10,464.10 326.34,465.19 325.55,464.67 324.75,464.30 323.92,464.36 323.07,464.84" fill="#0000ff"/>
<rect x="364.84" y="381.50" width="10.20" height="10.20" fill="#fff" stroke="#ff0000" stroke-width="1.0" />
<rect x="364.84" y="450.47" width="10.20" height="10.20" fill="#fff" stroke="#0000ff" stroke-width="1.0" />
<line x1="289.00" y1="341.00" x2="321.70" y2="341.00" stroke="#ff0000" stroke-width="1.8" />
<rect x="300.20" y="335.60" width="10.40" height="10.40" fill="#fff" stroke="#ff0000" stroke-width="1" />
<line x1="289.00" y1="363.40" x2="321.70" y2="363.40" stroke="#0000ff" stroke-width="1.8" />
<rect x="300.20" y="358.20" width="10.40" height="10.40" fill="#fff" stroke="#0000ff" stroke-width="1" />
<text x="325.90" y="345.70" font-size="17.8" font-weight="bold" fill="#000" textLength="33.81" lengthAdjust="spacing">LRS</text>
<text x="325.90" y="368.20" font-size="17.8" font-weight="bold" fill="#000" textLength="35.72" lengthAdjust="spacing">HRS</text>
<text x="114.99" y="353.30" font-size="17.5" font-weight="bold" fill="#000" textLength="109.62" lengthAdjust="spacing">Read @ +0.1V</text>
<line x1="76.40" y1="533.70" x2="76.40" y2="528.70" stroke="#000" stroke-width="1.9" />
<line x1="146.00" y1="533.70" x2="146.00" y2="528.70" stroke="#000" stroke-width="1.9" />
<line x1="215.60" y1="533.70" x2="215.60" y2="528.70" stroke="#000" stroke-width="1.9" />
<line x1="285.20" y1="533.70" x2="285.20" y2="528.70" stroke="#000" stroke-width="1.9" />
<line x1="354.80" y1="533.70" x2="354.80" y2="528.70" stroke="#000" stroke-width="1.9" />
<line x1="97.35" y1="533.70" x2="97.35" y2="530.50" stroke="#000" stroke-width="1.7" />
<line x1="109.61" y1="533.70" x2="109.61" y2="530.50" stroke="#000" stroke-width="1.7" />
<line x1="118.30" y1="533.70" x2="118.30" y2="530.50" stroke="#000" stroke-width="1.7" />
<line x1="125.05" y1="533.70" x2="125.05" y2="530.50" stroke="#000" stroke-width="1.7" />
<line x1="130.56" y1="533.70" x2="130.56" y2="530.50" stroke="#000" stroke-width="1.7" />
<line x1="135.22" y1="533.70" x2="135.22" y2="530.50" stroke="#000" stroke-width="1.7" />
<line x1="139.26" y1="533.70" x2="139.26" y2="530.50" stroke="#000" stroke-width="1.7" />
<line x1="142.82" y1="533.70" x2="142.82" y2="530.50" stroke="#000" stroke-width="1.7" />
<line x1="166.95" y1="533.70" x2="166.95" y2="530.50" stroke="#000" stroke-width="1.7" />
<line x1="179.21" y1="533.70" x2="179.21" y2="530.50" stroke="#000" stroke-width="1.7" />
<line x1="187.90" y1="533.70" x2="187.90" y2="530.50" stroke="#000" stroke-width="1.7" />
<line x1="194.65" y1="533.70" x2="194.65" y2="530.50" stroke="#000" stroke-width="1.7" />
<line x1="200.16" y1="533.70" x2="200.16" y2="530.50" stroke="#000" stroke-width="1.7" />
<line x1="204.82" y1="533.70" x2="204.82" y2="530.50" stroke="#000" stroke-width="1.7" />
<line x1="208.86" y1="533.70" x2="208.86" y2="530.50" stroke="#000" stroke-width="1.7" />
<line x1="212.42" y1="533.70" x2="212.42" y2="530.50" stroke="#000" stroke-width="1.7" />
<line x1="236.55" y1="533.70" x2="236.55" y2="530.50" stroke="#000" stroke-width="1.7" />
<line x1="248.81" y1="533.70" x2="248.81" y2="530.50" stroke="#000" stroke-width="1.7" />
<line x1="257.50" y1="533.70" x2="257.50" y2="530.50" stroke="#000" stroke-width="1.7" />
<line x1="264.25" y1="533.70" x2="264.25" y2="530.50" stroke="#000" stroke-width="1.7" />
<line x1="269.76" y1="533.70" x2="269.76" y2="530.50" stroke="#000" stroke-width="1.7" />
<line x1="274.42" y1="533.70" x2="274.42" y2="530.50" stroke="#000" stroke-width="1.7" />
<line x1="278.46" y1="533.70" x2="278.46" y2="530.50" stroke="#000" stroke-width="1.7" />
<line x1="282.02" y1="533.70" x2="282.02" y2="530.50" stroke="#000" stroke-width="1.7" />
<line x1="306.15" y1="533.70" x2="306.15" y2="530.50" stroke="#000" stroke-width="1.7" />
<line x1="318.41" y1="533.70" x2="318.41" y2="530.50" stroke="#000" stroke-width="1.7" />
<line x1="327.10" y1="533.70" x2="327.10" y2="530.50" stroke="#000" stroke-width="1.7" />
<line x1="333.85" y1="533.70" x2="333.85" y2="530.50" stroke="#000" stroke-width="1.7" />
<line x1="339.36" y1="533.70" x2="339.36" y2="530.50" stroke="#000" stroke-width="1.7" />
<line x1="344.02" y1="533.70" x2="344.02" y2="530.50" stroke="#000" stroke-width="1.7" />
<line x1="348.06" y1="533.70" x2="348.06" y2="530.50" stroke="#000" stroke-width="1.7" />
<line x1="351.62" y1="533.70" x2="351.62" y2="530.50" stroke="#000" stroke-width="1.7" />
<line x1="73.50" y1="381.60" x2="78.50" y2="381.60" stroke="#000" stroke-width="1.9" />
<line x1="73.50" y1="458.80" x2="78.50" y2="458.80" stroke="#000" stroke-width="1.9" />
<line x1="73.50" y1="533.70" x2="78.50" y2="533.70" stroke="#000" stroke-width="1.9" />
<line x1="73.50" y1="434.72" x2="76.70" y2="434.72" stroke="#000" stroke-width="1.7" />
<line x1="73.50" y1="421.34" x2="76.70" y2="421.34" stroke="#000" stroke-width="1.7" />
<line x1="73.50" y1="411.84" x2="76.70" y2="411.84" stroke="#000" stroke-width="1.7" />
<line x1="73.50" y1="404.48" x2="76.70" y2="404.48" stroke="#000" stroke-width="1.7" />
<line x1="73.50" y1="398.46" x2="76.70" y2="398.46" stroke="#000" stroke-width="1.7" />
<line x1="73.50" y1="393.37" x2="76.70" y2="393.37" stroke="#000" stroke-width="1.7" />
<line x1="73.50" y1="388.97" x2="76.70" y2="388.97" stroke="#000" stroke-width="1.7" />
<line x1="73.50" y1="385.08" x2="76.70" y2="385.08" stroke="#000" stroke-width="1.7" />
<line x1="73.50" y1="510.72" x2="76.70" y2="510.72" stroke="#000" stroke-width="1.7" />
<line x1="73.50" y1="497.34" x2="76.70" y2="497.34" stroke="#000" stroke-width="1.7" />
<line x1="73.50" y1="487.84" x2="76.70" y2="487.84" stroke="#000" stroke-width="1.7" />
<line x1="73.50" y1="480.48" x2="76.70" y2="480.48" stroke="#000" stroke-width="1.7" />
<line x1="73.50" y1="474.46" x2="76.70" y2="474.46" stroke="#000" stroke-width="1.7" />
<line x1="73.50" y1="469.37" x2="76.70" y2="469.37" stroke="#000" stroke-width="1.7" />
<line x1="73.50" y1="464.97" x2="76.70" y2="464.97" stroke="#000" stroke-width="1.7" />
<line x1="73.50" y1="461.08" x2="76.70" y2="461.08" stroke="#000" stroke-width="1.7" />
<line x1="73.50" y1="358.72" x2="76.70" y2="358.72" stroke="#000" stroke-width="1.7" />
<line x1="73.50" y1="345.34" x2="76.70" y2="345.34" stroke="#000" stroke-width="1.7" />
<line x1="73.50" y1="335.84" x2="76.70" y2="335.84" stroke="#000" stroke-width="1.7" />
<line x1="73.50" y1="328.48" x2="76.70" y2="328.48" stroke="#000" stroke-width="1.7" />
<line x1="73.50" y1="322.46" x2="76.70" y2="322.46" stroke="#000" stroke-width="1.7" />
<line x1="73.50" y1="317.37" x2="76.70" y2="317.37" stroke="#000" stroke-width="1.7" />
<line x1="73.50" y1="312.97" x2="76.70" y2="312.97" stroke="#000" stroke-width="1.7" />
<rect x="71.30" y="376.00" width="10.20" height="10.20" fill="#fff" stroke="#ff0000" stroke-width="1.0" />
<rect x="71.30" y="455.90" width="10.20" height="10.20" fill="#fff" stroke="#0000ff" stroke-width="1.0" />
<text x="34.39" y="388.13" font-size="19.5" font-weight="bold" fill="#000" textLength="20.17" lengthAdjust="spacingAndGlyphs">10</text>
<text x="53.99" y="377.21" font-size="10.5" font-weight="bold" fill="#000" textLength="9.11" lengthAdjust="spacingAndGlyphs">-4</text>
<text x="34.39" y="465.33" font-size="19.5" font-weight="bold" fill="#000" textLength="20.17" lengthAdjust="spacingAndGlyphs">10</text>
<text x="53.98" y="454.41" font-size="10.5" font-weight="bold" fill="#000" textLength="9.35" lengthAdjust="spacingAndGlyphs">-5</text>
<text x="34.39" y="539.23" font-size="19.5" font-weight="bold" fill="#000" textLength="20.17" lengthAdjust="spacingAndGlyphs">10</text>
<text x="53.98" y="528.31" font-size="10.5" font-weight="bold" fill="#000" textLength="9.26" lengthAdjust="spacingAndGlyphs">-6</text>
<text x="63.69" y="559.70" font-size="19" font-weight="bold" fill="#000" textLength="20.17" lengthAdjust="spacingAndGlyphs">10</text>
<text x="83.36" y="549.30" font-size="10.5" font-weight="bold" fill="#000" textLength="5.88" lengthAdjust="spacingAndGlyphs">0</text>
<text x="133.29" y="559.70" font-size="19" font-weight="bold" fill="#000" textLength="20.17" lengthAdjust="spacingAndGlyphs">10</text>
<text x="152.31" y="549.30" font-size="10.5" font-weight="bold" fill="#000" textLength="6.80" lengthAdjust="spacingAndGlyphs">1</text>
<text x="202.89" y="559.70" font-size="19" font-weight="bold" fill="#000" textLength="20.17" lengthAdjust="spacingAndGlyphs">10</text>
<text x="222.49" y="549.30" font-size="10.5" font-weight="bold" fill="#000" textLength="6.02" lengthAdjust="spacingAndGlyphs">2</text>
<text x="272.49" y="559.70" font-size="19" font-weight="bold" fill="#000" textLength="20.17" lengthAdjust="spacingAndGlyphs">10</text>
<text x="292.16" y="549.30" font-size="10.5" font-weight="bold" fill="#000" textLength="5.85" lengthAdjust="spacingAndGlyphs">3</text>
<text x="342.09" y="559.70" font-size="19" font-weight="bold" fill="#000" textLength="20.17" lengthAdjust="spacingAndGlyphs">10</text>
<text x="362.07" y="549.30" font-size="10.5" font-weight="bold" fill="#000" textLength="5.32" lengthAdjust="spacingAndGlyphs">4</text>
<text x="0" y="0" font-size="19" font-weight="bold" fill="#000" textLength="97.08" lengthAdjust="spacing" transform="translate(14.60,486.65) rotate(-90)">Current(A)</text>
<text x="191.51" y="581.50" font-size="18" font-weight="bold" fill="#000" textLength="67.74" lengthAdjust="spacing">Time (s)</text>
<text x="414.09" y="313.80" font-size="19.3" font-weight="bold" fill="#000" textLength="26.22" lengthAdjust="spacing">(d)</text>
<polyline points="495.00,388.50 495.70,388.45 496.40,388.33 497.10,388.79 497.80,388.91 498.50,388.62 499.20,388.66 499.90,388.45 500.60,388.49 501.30,388.66 502.00,388.64 502.70,389.01 503.40,388.63 504.10,388.58 504.80,389.16 505.50,388.94 506.20,388.74 506.90,389.00 507.60,388.72 508.30,389.05 509.00,389.35 509.70,389.31 510.40,389.23 511.10,389.00 511.80,389.09 512.50,389.00 513.20,389.39 513.90,389.28 514.60,389.45 515.30,389.21 516.00,389.17 516.70,389.55 517.40,389.69 518.10,389.64 518.80,389.64 519.50,389.67 520.20,389.65 520.90,389.37 521.60,389.57 522.30,389.51 523.00,389.34 523.70,389.36 524.40,389.54 525.10,389.56 525.80,389.85 526.50,390.03 527.20,389.76 527.90,390.08 528.60,390.14 529.30,390.15 530.00,389.82 530.70,389.76 531.40,389.79 532.10,389.80 532.80,389.83 533.50,390.11 534.20,390.31 534.90,390.30 535.60,387.19 536.30,387.56 537.00,387.88 537.70,386.12 538.40,387.46 539.10,388.02 539.80,387.67 540.50,387.56 541.20,386.86 541.90,386.11 542.60,387.53 543.30,386.40 544.00,387.48 544.70,387.85 545.40,386.43 546.10,386.40 546.80,387.67 547.50,387.10 548.20,385.73 548.90,385.58 549.60,385.60 550.30,387.37 551.00,387.09 551.70,385.47 552.40,387.06 553.10,387.39 553.80,386.57 554.50,385.80 555.20,386.23 555.90,385.19 556.60,384.87 557.30,387.13 558.00,386.32 558.70,385.98 559.40,386.92 560.10,385.68 560.80,386.69 561.50,386.54 562.20,385.02 562.90,385.08 563.60,385.14 564.30,384.97 565.00,385.76 565.70,384.94 566.40,385.28 567.10,384.55 567.80,386.38 568.50,385.01 569.20,385.22 569.90,385.48 570.60,386.21 571.30,385.01 572.00,386.16 572.70,385.12 573.40,385.24 574.10,385.32 574.80,384.21 575.50,385.32 576.20,384.81 576.90,384.48 577.60,386.49 578.30,385.09 579.00,385.92 579.70,386.63 580.40,386.32 581.10,385.87 581.80,386.44 582.50,386.63 583.20,387.28 583.90,385.76 584.60,386.95 585.30,386.31 586.00,386.48 586.70,387.77 587.40,387.24 588.10,387.47 588.80,388.05 589.50,388.52 590.20,387.49 590.90,388.00 591.60,387.85 592.30,387.97 593.00,388.50 593.70,388.03 594.40,388.33 595.10,388.30 595.80,389.51 596.50,389.03 597.20,389.56 597.90,389.82 598.60,388.29 599.30,389.11 600.00,390.13 600.70,389.99 601.40,388.41 602.10,388.47 602.80,389.34 603.50,388.56 604.20,389.07 604.90,388.77 605.60,390.30 606.30,390.68 607.00,391.05 607.70,389.37 608.40,390.82 609.10,390.79" fill="none" stroke="#ff0000" stroke-width="1.8" stroke-linejoin="round" stroke-linecap="round" />
<polyline points="609.50,389.50 629.60,389.50" fill="none" stroke="#ff0000" stroke-width="2.4" stroke-linejoin="round" stroke-linecap="butt" />
<polyline points="635.60,389.50 662.10,389.50 664.10,390.10 706.30,390.10 709.30,390.70 732.40,390.70 734.40,390.10 768.60,390.10" fill="none" stroke="#ff0000" stroke-width="2.6" stroke-linejoin="round" stroke-linecap="butt" />
<polyline points="494.50,462.28 495.00,463.51 495.50,463.69 496.00,462.54 496.50,463.76 497.00,462.92 497.50,463.11 498.00,463.96 498.50,463.76 499.00,462.73 499.50,463.21 500.00,463.39 500.50,463.15 501.00,462.97 501.50,463.22 502.00,463.91 502.50,462.83 503.00,463.73 503.50,463.60 504.00,462.97 504.50,463.52 505.00,464.03 505.50,463.90 506.00,463.23 506.50,464.75 507.00,464.48 507.50,464.83 508.00,463.49 508.50,463.79 509.00,463.48 509.50,464.71 510.00,463.94 510.50,463.76 511.00,464.28 511.50,464.94 512.00,464.68 512.50,463.67 513.00,463.38 513.50,464.49 514.00,463.82 514.50,463.91 515.00,462.82 515.50,462.65 516.00,463.55 516.50,463.01 517.00,462.33 517.50,463.60 518.00,463.00 518.50,463.15 519.00,461.89 519.50,463.01 520.00,461.63 520.50,462.79 521.00,462.02 521.50,461.72 522.00,461.95 522.50,462.43 523.00,461.26 523.50,460.92 524.00,461.44 524.50,460.87 525.00,460.54 525.50,460.51 526.00,460.22 526.50,460.35 527.00,460.41 527.50,460.28 528.00,460.89 528.50,460.03 529.00,460.25 529.50,459.62 530.00,459.77 530.50,459.13 531.00,459.39 531.50,458.89 532.00,459.93 532.50,459.52 533.00,458.83 533.50,459.17 534.00,459.79 534.50,458.35 535.00,459.37 535.50,458.64 536.00,458.62 536.50,459.05 537.00,458.23" fill="none" stroke="#0000ff" stroke-width="3.2" stroke-linejoin="round" stroke-linecap="round" />
<polygon points="537.00,455.99 538.00,455.44 539.00,455.64 540.00,455.90 541.00,456.27 542.00,456.55 543.00,455.84 544.00,456.55 545.00,455.76 546.00,455.99 547.00,456.52 548.00,456.28 549.00,456.32 550.00,455.72 551.00,456.24 552.00,455.76 553.00,456.51 554.00,456.50 555.00,456.38 556.00,456.40 557.00,456.71 558.00,456.56 559.00,457.04 560.00,456.81 561.00,456.47 562.00,456.34 563.00,456.09 564.00,456.78 565.00,457.01 566.00,456.44 567.00,456.23 568.00,456.50 569.00,456.30 570.00,456.67 571.00,456.32 572.00,456.35 573.00,456.29 574.00,456.55 575.00,457.37 576.00,456.99 577.00,456.44 578.00,456.71 579.00,456.67 580.00,457.50 581.00,456.63 582.00,456.91 583.00,457.49 584.00,457.29 585.00,457.30 586.00,457.39 587.00,456.49 588.00,457.22 589.00,456.88 590.00,456.98 591.00,457.65 592.00,457.46 593.00,457.42 594.00,457.79 595.00,457.50 596.00,457.02 597.00,457.52 598.00,457.33 599.00,457.77 600.00,457.69 601.00,456.83 602.00,457.42 603.00,456.83 604.00,457.69 605.00,456.90 606.00,457.36 607.00,457.45 608.00,457.94 608.00,465.48 607.00,465.62 606.00,464.63 605.00,464.69 604.00,464.67 603.00,464.93 602.00,465.36 601.00,464.37 600.00,465.50 599.00,465.38 598.00,464.85 597.00,464.89 596.00,465.06 595.00,465.03 594.00,464.28 593.00,464.86 592.00,465.05 591.00,464.32 590.00,464.89 589.00,465.02 588.00,464.65 587.00,464.65 586.00,464.92 585.00,464.89 584.00,464.08 583.00,464.86 582.00,464.74 581.00,464.53 580.00,464.87 579.00,464.47 578.00,464.62 577.00,464.52 576.00,463.95 575.00,463.96 574.00,464.06 573.00,464.58 572.00,464.44 571.00,464.68 570.00,464.30 569.00,463.84 568.00,464.54 567.00,464.70 566.00,463.67 565.00,464.46 564.00,464.75 563.00,464.02 562.00,464.39 561.00,464.41 560.00,464.19 559.00,463.83 558.00,463.49 557.00,463.53 556.00,463.41 555.00,463.62 554.00,463.93 553.00,463.34 552.00,463.69 551.00,463.59 550.00,464.44 549.00,463.57 548.00,463.42 547.00,463.56 546.00,463.53 545.00,464.21 544.00,463.25 543.00,463.43 542.00,463.19 541.00,463.15 540.00,463.55 539.00,463.89 538.00,463.43 537.00,463.83" fill="#0000ff"/>
<polyline points="537.00,452.80 537.60,464.80 538.30,456.83 538.90,467.83 539.60,454.85 540.20,463.85 540.90,453.88 541.50,465.88 542.20,453.91 542.80,462.91 543.50,455.94 544.10,462.94 544.80,453.96 545.40,467.96 546.10,453.99 546.70,465.99 547.40,455.02 548.00,468.02 548.70,456.05 549.30,466.05 550.00,455.07 550.60,466.07 551.30,455.10 551.90,463.10 552.60,455.13 553.20,463.13 553.90,455.16 554.50,465.16 555.20,454.18 555.80,463.18 556.50,456.21 557.10,468.21 557.80,457.24 558.40,468.24 559.10,455.27 559.70,465.27 560.40,455.29 561.00,463.29 561.70,454.32 562.30,466.32 563.00,453.35 563.60,463.35 564.30,455.38 564.90,466.38 565.60,455.40 566.20,463.40 566.90,455.43 567.50,463.43 568.20,457.46 568.80,468.46 569.50,455.49 570.10,468.49 570.80,456.51 571.40,464.51 572.10,455.54 572.70,466.54 573.40,453.57 574.00,465.57 574.70,456.60 575.30,465.60 576.00,454.62 576.60,463.62 577.30,452.65 577.90,466.65 578.60,453.68 579.20,467.68 579.90,456.71 580.50,468.71 581.20,457.73 581.80,463.73 582.50,452.76 583.10,466.76 583.80,454.79 584.40,467.79 585.10,456.82 585.70,468.82 586.40,455.84 587.00,466.84 587.70,457.87 588.30,467.87 589.00,456.90 589.60,464.90 590.30,454.93 590.90,466.93 591.60,455.95 592.20,465.95 592.90,455.98 593.50,465.98 594.20,453.01 594.80,469.01 595.50,453.04 596.10,466.04 596.80,455.06 597.40,469.06 598.10,457.09 598.70,466.09 599.40,455.12 600.00,468.12 600.70,453.15 601.30,467.15 602.00,458.17 602.60,465.17 603.30,453.20 603.90,465.20 604.60,458.23 605.20,465.23 605.90,454.26 606.50,467.26 607.20,454.28 607.80,465.28" fill="none" stroke="#0000ff" stroke-width="1.3" stroke-linejoin="round" stroke-linecap="round" />
<polyline points="609.50,461.50 629.60,458.40" fill="none" stroke="#0000ff" stroke-width="2.8" stroke-linejoin="round" stroke-linecap="butt" />
<polyline points="635.60,458.40 646.10,457.20 662.10,462.00 701.30,462.00 714.30,458.80 736.40,458.00 758.50,458.40 768.60,459.60" fill="none" stroke="#0000ff" stroke-width="2.8" stroke-linejoin="round" stroke-linecap="butt" />
<line x1="697.00" y1="328.20" x2="719.50" y2="328.20" stroke="#0000ff" stroke-width="2.4" />
<line x1="697.00" y1="350.20" x2="719.50" y2="350.20" stroke="#ff0000" stroke-width="2.4" />
<text x="723.41" y="331.60" font-size="17.3" font-weight="bold" fill="#000" textLength="34.28" lengthAdjust="spacing">HRS</text>
<text x="723.40" y="353.50" font-size="17.3" font-weight="bold" fill="#000" textLength="32.88" lengthAdjust="spacing">LRS</text>
<text x="510.70" y="345.80" font-size="17" font-weight="bold" fill="#000" textLength="105.60" lengthAdjust="spacing">Read @ +0.1V</text>
<text x="511.52" y="416.20" font-size="18" font-weight="bold" fill="#000" textLength="8.09" lengthAdjust="spacing">I</text>
<text x="519.50" y="419.60" font-size="12.5" font-weight="bold" fill="#000" textLength="14.08" lengthAdjust="spacing">on</text>
<text x="533.04" y="416.20" font-size="18" font-weight="bold" fill="#000" textLength="193.09" lengthAdjust="spacing">=0.79482E-4~1.0144E-4</text>
<text x="511.52" y="497.90" font-size="18" font-weight="bold" fill="#000" textLength="8.09" lengthAdjust="spacing">I</text>
<text x="519.15" y="501.30" font-size="12.5" font-weight="bold" fill="#000" textLength="14.15" lengthAdjust="spacing">off</text>
<text x="533.03" y="497.90" font-size="18" font-weight="bold" fill="#000" textLength="196.40" lengthAdjust="spacing">=0.76882E-5~1.2542E-5</text>
<rect x="483.60" y="310.50" width="299.20" height="222.90" fill="none" stroke="#000" stroke-width="2.3" />
<rect x="628.80" y="308.30" width="8.40" height="4.00" fill="#fff" stroke="none" stroke-width="1" />
<line x1="627.00" y1="315.20" x2="633.00" y2="305.70" stroke="#000" stroke-width="2.3" stroke-linecap="round"/>
<line x1="632.70" y1="315.20" x2="638.60" y2="305.70" stroke="#000" stroke-width="2.3" stroke-linecap="round"/>
<rect x="628.80" y="531.40" width="8.40" height="4.00" fill="#fff" stroke="none" stroke-width="1" />
<line x1="627.00" y1="538.30" x2="633.00" y2="528.80" stroke="#000" stroke-width="2.3" stroke-linecap="round"/>
<line x1="632.70" y1="538.30" x2="638.60" y2="528.80" stroke="#000" stroke-width="2.3" stroke-linecap="round"/>
<line x1="493.60" y1="533.40" x2="493.60" y2="528.40" stroke="#000" stroke-width="1.9" />
<line x1="607.60" y1="533.40" x2="607.60" y2="528.40" stroke="#000" stroke-width="1.9" />
<line x1="662.00" y1="533.40" x2="662.00" y2="528.40" stroke="#000" stroke-width="1.9" />
<line x1="715.30" y1="533.40" x2="715.30" y2="528.40" stroke="#000" stroke-width="1.9" />
<line x1="767.80" y1="533.40" x2="767.80" y2="528.40" stroke="#000" stroke-width="1.9" />
<line x1="483.60" y1="384.20" x2="488.60" y2="384.20" stroke="#000" stroke-width="1.9" />
<line x1="483.60" y1="459.70" x2="488.60" y2="459.70" stroke="#000" stroke-width="1.9" />
<line x1="483.60" y1="533.40" x2="488.60" y2="533.40" stroke="#000" stroke-width="1.9" />
<line x1="483.60" y1="510.94" x2="486.80" y2="510.94" stroke="#000" stroke-width="1.7" />
<line x1="483.60" y1="497.81" x2="486.80" y2="497.81" stroke="#000" stroke-width="1.7" />
<line x1="483.60" y1="488.49" x2="486.80" y2="488.49" stroke="#000" stroke-width="1.7" />
<line x1="483.60" y1="481.26" x2="486.80" y2="481.26" stroke="#000" stroke-width="1.7" />
<line x1="483.60" y1="475.35" x2="486.80" y2="475.35" stroke="#000" stroke-width="1.7" />
<line x1="483.60" y1="470.36" x2="486.80" y2="470.36" stroke="#000" stroke-width="1.7" />
<line x1="483.60" y1="466.03" x2="486.80" y2="466.03" stroke="#000" stroke-width="1.7" />
<line x1="483.60" y1="462.21" x2="486.80" y2="462.21" stroke="#000" stroke-width="1.7" />
<line x1="483.60" y1="436.34" x2="486.80" y2="436.34" stroke="#000" stroke-width="1.7" />
<line x1="483.60" y1="423.21" x2="486.80" y2="423.21" stroke="#000" stroke-width="1.7" />
<line x1="483.60" y1="413.89" x2="486.80" y2="413.89" stroke="#000" stroke-width="1.7" />
<line x1="483.60" y1="406.66" x2="486.80" y2="406.66" stroke="#000" stroke-width="1.7" />
<line x1="483.60" y1="400.75" x2="486.80" y2="400.75" stroke="#000" stroke-width="1.7" />
<line x1="483.60" y1="395.76" x2="486.80" y2="395.76" stroke="#000" stroke-width="1.7" />
<line x1="483.60" y1="391.43" x2="486.80" y2="391.43" stroke="#000" stroke-width="1.7" />
<line x1="483.60" y1="387.61" x2="486.80" y2="387.61" stroke="#000" stroke-width="1.7" />
<line x1="483.60" y1="361.74" x2="486.80" y2="361.74" stroke="#000" stroke-width="1.7" />
<line x1="483.60" y1="348.61" x2="486.80" y2="348.61" stroke="#000" stroke-width="1.7" />
<line x1="483.60" y1="339.29" x2="486.80" y2="339.29" stroke="#000" stroke-width="1.7" />
<line x1="483.60" y1="332.06" x2="486.80" y2="332.06" stroke="#000" stroke-width="1.7" />
<line x1="483.60" y1="326.15" x2="486.80" y2="326.15" stroke="#000" stroke-width="1.7" />
<line x1="483.60" y1="321.16" x2="486.80" y2="321.16" stroke="#000" stroke-width="1.7" />
<line x1="483.60" y1="316.83" x2="486.80" y2="316.83" stroke="#000" stroke-width="1.7" />
<line x1="483.60" y1="313.01" x2="486.80" y2="313.01" stroke="#000" stroke-width="1.7" />
<text x="446.10" y="390.93" font-size="16.5" font-weight="bold" fill="#000" textLength="20.06" lengthAdjust="spacingAndGlyphs">10</text>
<text x="465.59" y="381.69" font-size="9" font-weight="bold" fill="#000" textLength="9.11" lengthAdjust="spacingAndGlyphs">-4</text>
<text x="446.10" y="464.43" font-size="16.5" font-weight="bold" fill="#000" textLength="20.06" lengthAdjust="spacingAndGlyphs">10</text>
<text x="465.58" y="455.19" font-size="9" font-weight="bold" fill="#000" textLength="9.35" lengthAdjust="spacingAndGlyphs">-5</text>
<text x="446.10" y="539.03" font-size="16.5" font-weight="bold" fill="#000" textLength="20.06" lengthAdjust="spacingAndGlyphs">10</text>
<text x="465.58" y="529.79" font-size="9" font-weight="bold" fill="#000" textLength="9.26" lengthAdjust="spacingAndGlyphs">-6</text>
<text x="489.57" y="559.80" font-size="17.5" font-weight="bold" fill="#000" textLength="9.45" lengthAdjust="spacing">0</text>
<text x="586.35" y="559.50" font-size="18" font-weight="bold" fill="#000" textLength="36.33" lengthAdjust="spacingAndGlyphs">1x10</text>
<text x="622.86" y="550.50" font-size="9.5" font-weight="bold" fill="#000" textLength="5.85" lengthAdjust="spacingAndGlyphs">3</text>
<text x="650.50" y="559.50" font-size="18" font-weight="bold" fill="#000" textLength="19.94" lengthAdjust="spacingAndGlyphs">10</text>
<text x="670.20" y="550.50" font-size="9.5" font-weight="bold" fill="#000" textLength="4.04" lengthAdjust="spacingAndGlyphs">4</text>
<text x="703.80" y="559.50" font-size="18" font-weight="bold" fill="#000" textLength="19.94" lengthAdjust="spacingAndGlyphs">10</text>
<text x="723.24" y="550.50" font-size="9.5" font-weight="bold" fill="#000" textLength="4.50" lengthAdjust="spacingAndGlyphs">5</text>
<text x="756.30" y="559.50" font-size="18" font-weight="bold" fill="#000" textLength="19.94" lengthAdjust="spacingAndGlyphs">10</text>
<text x="775.79" y="550.50" font-size="9.5" font-weight="bold" fill="#000" textLength="4.37" lengthAdjust="spacingAndGlyphs">6</text>
<text x="0" y="0" font-size="18.5" font-weight="bold" fill="#000" textLength="96.99" lengthAdjust="spacing" transform="translate(431.90,475.90) rotate(-90)">Current (A)</text>
<text x="595.34" y="583.60" font-size="16.8" font-weight="bold" fill="#000" textLength="76.14" lengthAdjust="spacing">Cycles (#)</text>
<text x="8.66" y="618.60" font-size="19.3" font-weight="bold" fill="#000" textLength="24.58" lengthAdjust="spacing">(e)</text>
<rect x="88.30" y="650.20" width="121.70" height="8.40" fill="#ff0000" stroke="none" stroke-width="1" rx="1.6"/>
<line x1="91.40" y1="655.60" x2="207.30" y2="655.60" stroke="#ffd0d0" stroke-width="1.3" />
<line x1="149.00" y1="645.50" x2="149.00" y2="651.00" stroke="#ff0000" stroke-width="2.2" />
<line x1="140.20" y1="645.50" x2="157.60" y2="645.50" stroke="#ff0000" stroke-width="2.4" stroke-linecap="round"/>
<line x1="140.20" y1="658.20" x2="157.60" y2="658.20" stroke="#ff0000" stroke-width="2.4" stroke-linecap="round"/>
<rect x="237.40" y="800.80" width="122.60" height="5.80" fill="#0000ff" stroke="none" stroke-width="1" />
<rect x="290.60" y="798.40" width="16.70" height="4.00" fill="#0000ff" stroke="none" stroke-width="1" rx="1.5"/>
<line x1="299.00" y1="806.00" x2="299.00" y2="809.00" stroke="#0000ff" stroke-width="2.2" />
<line x1="290.60" y1="809.00" x2="307.30" y2="809.00" stroke="#0000ff" stroke-width="2.3" stroke-linecap="round"/>
<rect x="74.30" y="617.20" width="299.40" height="222.80" fill="none" stroke="#000" stroke-width="2.3" />
<line x1="74.30" y1="833.15" x2="79.30" y2="833.15" stroke="#000" stroke-width="1.9" />
<line x1="74.30" y1="798.50" x2="79.30" y2="798.50" stroke="#000" stroke-width="1.9" />
<line x1="74.30" y1="763.85" x2="79.30" y2="763.85" stroke="#000" stroke-width="1.9" />
<line x1="74.30" y1="729.20" x2="79.30" y2="729.20" stroke="#000" stroke-width="1.9" />
<line x1="74.30" y1="694.55" x2="79.30" y2="694.55" stroke="#000" stroke-width="1.9" />
<line x1="74.30" y1="659.90" x2="79.30" y2="659.90" stroke="#000" stroke-width="1.9" />
<line x1="74.30" y1="625.25" x2="79.30" y2="625.25" stroke="#000" stroke-width="1.9" />
<line x1="74.30" y1="815.83" x2="77.30" y2="815.83" stroke="#000" stroke-width="1.9" />
<line x1="74.30" y1="781.18" x2="77.30" y2="781.18" stroke="#000" stroke-width="1.9" />
<line x1="74.30" y1="746.53" x2="77.30" y2="746.53" stroke="#000" stroke-width="1.9" />
<line x1="74.30" y1="711.88" x2="77.30" y2="711.88" stroke="#000" stroke-width="1.9" />
<line x1="74.30" y1="677.23" x2="77.30" y2="677.23" stroke="#000" stroke-width="1.9" />
<line x1="74.30" y1="642.58" x2="77.30" y2="642.58" stroke="#000" stroke-width="1.9" />
<line x1="149.30" y1="840.00" x2="149.30" y2="835.00" stroke="#000" stroke-width="1.9" />
<line x1="298.90" y1="840.00" x2="298.90" y2="835.00" stroke="#000" stroke-width="1.9" />
<text x="43.22" y="838.65" font-size="16.5" font-weight="bold" fill="#000" textLength="25.60" lengthAdjust="spacingAndGlyphs">-1.5</text>
<text x="43.22" y="804.00" font-size="16.5" font-weight="bold" fill="#000" textLength="25.60" lengthAdjust="spacingAndGlyphs">-1.0</text>
<text x="43.22" y="769.35" font-size="16.5" font-weight="bold" fill="#000" textLength="25.60" lengthAdjust="spacingAndGlyphs">-0.5</text>
<text x="48.59" y="734.70" font-size="16.5" font-weight="bold" fill="#000" textLength="20.21" lengthAdjust="spacingAndGlyphs">0.0</text>
<text x="48.59" y="700.05" font-size="16.5" font-weight="bold" fill="#000" textLength="20.21" lengthAdjust="spacingAndGlyphs">0.5</text>
<text x="48.59" y="665.40" font-size="16.5" font-weight="bold" fill="#000" textLength="20.21" lengthAdjust="spacingAndGlyphs">1.0</text>
<text x="48.59" y="630.75" font-size="16.5" font-weight="bold" fill="#000" textLength="20.21" lengthAdjust="spacingAndGlyphs">1.5</text>
<text x="0" y="0" font-size="18.5" font-weight="bold" fill="#000" textLength="93.43" lengthAdjust="spacing" transform="translate(30.40,777.09) rotate(-90)">Voltage (V)</text>
<text x="134.83" y="863.70" font-size="17" font-weight="bold" fill="#000" textLength="11.97" lengthAdjust="spacing">V</text>
<text x="146.88" y="867.70" font-size="17" font-weight="bold" fill="#000" textLength="20.39" lengthAdjust="spacing">set</text>
<text x="277.63" y="863.70" font-size="17" font-weight="bold" fill="#000" textLength="12.28" lengthAdjust="spacing">V</text>
<text x="290.02" y="867.70" font-size="17" font-weight="bold" fill="#000" textLength="35.33" lengthAdjust="spacing">reset</text>
<text x="426.41" y="618.30" font-size="19.3" font-weight="bold" fill="#000" textLength="21.02" lengthAdjust="spacing">(f)</text>
<rect x="497.00" y="804.00" width="122.60" height="5.00" fill="#808000" stroke="none" stroke-width="1" />
<line x1="550.60" y1="801.50" x2="566.00" y2="801.50" stroke="#808000" stroke-width="2.2" stroke-linecap="round"/>
<line x1="558.90" y1="801.50" x2="558.90" y2="804.50" stroke="#808000" stroke-width="2.4" />
<rect x="549.70" y="806.00" width="17.30" height="5.00" fill="#808000" stroke="none" stroke-width="1" rx="1.2"/>
<rect x="648.30" y="663.80" width="120.20" height="8.40" fill="none" stroke="#ff00ff" stroke-width="2.6" />
<line x1="649.50" y1="667.90" x2="767.00" y2="667.90" stroke="#ff00ff" stroke-width="1.9" />
<line x1="708.50" y1="653.50" x2="708.50" y2="662.50" stroke="#ff00ff" stroke-width="2.4" />
<line x1="708.50" y1="673.40" x2="708.50" y2="684.80" stroke="#ff00ff" stroke-width="2.4" />
<line x1="699.40" y1="653.50" x2="717.00" y2="653.50" stroke="#ff00ff" stroke-width="2.2" />
<line x1="699.40" y1="684.80" x2="717.00" y2="684.80" stroke="#ff00ff" stroke-width="2.2" />
<rect x="707.50" y="647.80" width="2.00" height="1.20" fill="#ff00ff" stroke="none" stroke-width="1" />
<rect x="707.50" y="686.50" width="2.00" height="1.20" fill="#ff00ff" stroke="none" stroke-width="1" />
<rect x="483.50" y="617.00" width="300.00" height="223.00" fill="none" stroke="#000" stroke-width="2.3" />
<line x1="483.50" y1="822.70" x2="488.50" y2="822.70" stroke="#000" stroke-width="1.9" />
<line x1="483.50" y1="754.30" x2="488.50" y2="754.30" stroke="#000" stroke-width="1.9" />
<line x1="483.50" y1="685.90" x2="488.50" y2="685.90" stroke="#000" stroke-width="1.9" />
<line x1="483.50" y1="788.50" x2="486.50" y2="788.50" stroke="#000" stroke-width="1.9" />
<line x1="483.50" y1="720.10" x2="486.50" y2="720.10" stroke="#000" stroke-width="1.9" />
<line x1="483.50" y1="651.70" x2="486.50" y2="651.70" stroke="#000" stroke-width="1.9" />
<line x1="558.00" y1="840.00" x2="558.00" y2="835.00" stroke="#000" stroke-width="1.9" />
<line x1="708.40" y1="840.00" x2="708.40" y2="835.00" stroke="#000" stroke-width="1.9" />
<text x="464.38" y="828.10" font-size="16.5" font-weight="bold" fill="#000" textLength="9.24" lengthAdjust="spacing">0</text>
<text x="464.43" y="759.70" font-size="16.5" font-weight="bold" fill="#000" textLength="9.24" lengthAdjust="spacing">4</text>
<text x="464.38" y="691.30" font-size="16.5" font-weight="bold" fill="#000" textLength="9.24" lengthAdjust="spacing">8</text>
<text x="0" y="0" font-size="18.5" font-weight="bold" fill="#000" textLength="107.22" lengthAdjust="spacing" transform="translate(453.50,793.00) rotate(-90)">Current (μA)</text>
<text x="546.23" y="858.80" font-size="17.6" font-weight="bold" fill="#000" textLength="6.88" lengthAdjust="spacing">I</text>
<text x="552.90" y="862.60" font-size="16.5" font-weight="bold" fill="#000" textLength="21.83" lengthAdjust="spacing">off</text>
<text x="700.52" y="858.80" font-size="17.6" font-weight="bold" fill="#000" textLength="7.00" lengthAdjust="spacing">I</text>
<text x="706.97" y="862.60" font-size="16.5" font-weight="bold" fill="#000" textLength="17.66" lengthAdjust="spacing">on</text>
</svg>
</body></html>
